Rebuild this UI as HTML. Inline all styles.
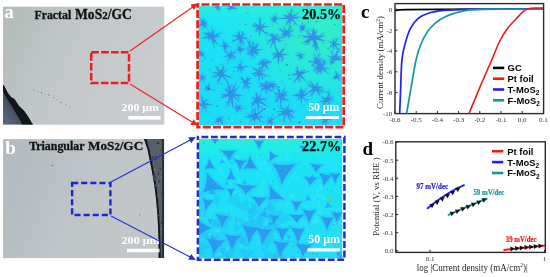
<!DOCTYPE html>
<html><head><meta charset="utf-8"><style>
html,body{margin:0;padding:0;background:#fff;width:550px;height:277px;overflow:hidden}
svg{display:block}
</style></head><body>
<svg width="550" height="277" viewBox="0 0 550 277">
<defs>
<linearGradient id="ga" x1="0" y1="0.2" x2="1" y2="0.5">
<stop offset="0" stop-color="#b3bcb9"/><stop offset="0.4" stop-color="#c2c7ca"/><stop offset="1" stop-color="#c8ccce"/></linearGradient>
<linearGradient id="gb" x1="0" y1="0.2" x2="1" y2="0.5">
<stop offset="0" stop-color="#b2bac0"/><stop offset="0.5" stop-color="#bec4c7"/><stop offset="1" stop-color="#c3c7c9"/></linearGradient>
<linearGradient id="gr" x1="0" y1="0" x2="0" y2="1">
<stop offset="0" stop-color="#26eee0"/><stop offset="0.1" stop-color="#1ee6f0"/><stop offset="0.3" stop-color="#1ce2f4"/><stop offset="1" stop-color="#1edcf4"/></linearGradient>
<radialGradient id="gr2" cx="0.85" cy="0.25" r="0.6"><stop offset="0" stop-color="#34eec4" stop-opacity="0.95"/><stop offset="0.5" stop-color="#30eecc" stop-opacity="0.6"/><stop offset="1" stop-color="#30eed0" stop-opacity="0"/></radialGradient>
<linearGradient id="gbl" x1="0" y1="0" x2="0" y2="1">
<stop offset="0" stop-color="#26f0d8"/><stop offset="0.08" stop-color="#20eae8"/><stop offset="0.2" stop-color="#1ee4f6"/><stop offset="1" stop-color="#22dcf6"/></linearGradient>
<radialGradient id="gbl2" cx="0.1" cy="0.95" r="0.5"><stop offset="0" stop-color="#22a8f2" stop-opacity="0.15"/><stop offset="1" stop-color="#22a8f2" stop-opacity="0"/></radialGradient>
<filter id="soft" x="0" y="0" width="1" height="1"><feGaussianBlur stdDeviation="0.45"/></filter>
<filter id="soft2"><feGaussianBlur stdDeviation="0.5"/></filter>
<filter id="halo"><feGaussianBlur stdDeviation="1.6"/></filter>
<clipPath id="cr"><rect x="199" y="6" width="143" height="119.5"/></clipPath>
<clipPath id="cb"><rect x="199" y="139" width="143.5" height="119.5"/></clipPath>
<marker id="ahr" viewBox="0 0 10 10" refX="9" refY="5" markerWidth="6" markerHeight="6" orient="auto"><path d="M0,0 L10,5 L0,10 z" fill="#f02020"/></marker>
<marker id="ahb" viewBox="0 0 10 10" refX="9" refY="5" markerWidth="6" markerHeight="6" orient="auto"><path d="M0,0 L10,5 L0,10 z" fill="#2030d0"/></marker>
</defs>
<rect x="3.1" y="6.7" width="161.2" height="118" fill="url(#ga)"/>
<linearGradient id="gcorner" x1="0.9" y1="0.2" x2="0.1" y2="0.95"><stop offset="0" stop-color="#262e38"/><stop offset="0.45" stop-color="#3a4454"/><stop offset="1" stop-color="#5a667c"/></linearGradient>
<path d="M3,85 L3.8,85.2 L7.8,93 L11.2,97.3 L15.6,100.8 L19,106 L24.2,111.1 L28.5,117.2 L32,123.3 L33,124.5 L3,124.5 Z" fill="url(#gcorner)"/>
<path d="M3,85 L3.8,85.2 L7.8,93 L11.2,97.3 L14,98.5 L15.6,100.8 L19,106 L24.2,111.1 L28.5,117.2 L32,123.3 L33,124.5 L22,124.5 L20,120 L17,115 L14,110 L11,105 L7.5,99.5 L4.5,94 L3,91 Z" fill="#10161a"/>
<circle cx="34" cy="90" r="0.6" fill="#5a6260" opacity="0.7"/>
<circle cx="38" cy="91.5" r="0.5" fill="#5a6260" opacity="0.7"/>
<circle cx="41.5" cy="92.7" r="0.7" fill="#5a6260" opacity="0.7"/>
<circle cx="45" cy="94" r="0.5" fill="#5a6260" opacity="0.7"/>
<circle cx="48.8" cy="95" r="0.7" fill="#5a6260" opacity="0.7"/>
<circle cx="53.7" cy="97.6" r="0.7" fill="#5a6260" opacity="0.7"/>
<circle cx="57" cy="100" r="0.5" fill="#5a6260" opacity="0.7"/>
<circle cx="61" cy="102.4" r="0.7" fill="#5a6260" opacity="0.7"/>
<circle cx="65.9" cy="105" r="0.6" fill="#5a6260" opacity="0.7"/>
<circle cx="70" cy="107" r="0.5" fill="#5a6260" opacity="0.7"/>
<text x="4.3" y="18" font-family="Liberation Serif, serif" font-weight="bold" font-size="19" fill="#fff">a</text>
<text x="34.4" y="18.7" font-family="Liberation Serif, serif" font-weight="bold" font-size="13.1" fill="#111" stroke="#111" stroke-width="0.3" textLength="36.9" lengthAdjust="spacingAndGlyphs">Fractal</text>
<text x="75.1" y="18.7" font-family="Liberation Serif, serif" font-weight="bold" font-size="13.6" fill="#111" stroke="#111" stroke-width="0.3" textLength="56.6" lengthAdjust="spacingAndGlyphs">MoS<tspan font-size="11">2</tspan>/GC</text>
<rect x="91.2" y="52.2" width="37.8" height="30.8" fill="none" stroke="#f01c1c" stroke-width="2.5" stroke-dasharray="7.6,2.3"/>
<rect x="128.3" y="116" width="32.2" height="3.6" fill="#fff"/>
<text x="121.6" y="110.8" font-family="Liberation Serif, serif" font-weight="bold" font-size="11.4" fill="#fff" textLength="37.3" lengthAdjust="spacingAndGlyphs">200 μm</text>
<rect x="3.1" y="139.1" width="161.2" height="119" fill="url(#gb)"/>
<path d="M144,139 L144.2,139.5 L147.7,149.9 L150,161.4 L152.3,173 L154.6,186.8 L156.2,200 L157.5,215 L158.1,230 L158.3,245 L158.3,258 L164,258 L164,139 Z" fill="#565f68"/>
<path d="M144,139 L144.2,139.5 L147.7,149.9 L150,161.4 L152.3,173 L154.6,186.8 L156.2,200 L157.5,215 L158.3,230 L158.8,245 L159,258 L160.8,258 L160.4,245 L160,230 L159.2,215 L158,200 L156.4,186.8 L154.1,173 L151.8,161.4 L149.5,149.9 L146.4,139 Z" fill="#0c1518"/>
<clipPath id="cband"><path d="M144,139 L144.2,139.5 L147.7,149.9 L150,161.4 L152.3,173 L154.6,186.8 L156.2,200 L157.5,215 L158.3,230 L158.8,245 L159,258 L164,258 L164,139 Z"/></clipPath>
<g clip-path="url(#cband)">
<rect x="156.5" y="227.3" width="0.6" height="1.5" fill="#5a6470" opacity="0.8"/>
<rect x="162.9" y="216.2" width="0.7" height="1.5" fill="#80868c" opacity="0.8"/>
<rect x="148.9" y="203.7" width="0.8" height="2.0" fill="#5a6470" opacity="0.8"/>
<rect x="152.2" y="160.7" width="0.8" height="2.1" fill="#1c2226" opacity="0.8"/>
<rect x="146.8" y="212.5" width="0.7" height="2.4" fill="#80868c" opacity="0.8"/>
<rect x="144.1" y="231.1" width="1.5" height="1.1" fill="#80868c" opacity="0.8"/>
<rect x="163.2" y="203.2" width="0.8" height="2.4" fill="#80868c" opacity="0.8"/>
<rect x="147.9" y="253.8" width="0.9" height="1.3" fill="#1c2226" opacity="0.8"/>
<rect x="147.3" y="156.3" width="0.9" height="2.2" fill="#6a7078" opacity="0.8"/>
<rect x="155.7" y="209.9" width="0.7" height="1.3" fill="#2a3034" opacity="0.8"/>
<rect x="150.1" y="221.9" width="1.1" height="1.9" fill="#80868c" opacity="0.8"/>
<rect x="145.1" y="255.0" width="1.5" height="1.3" fill="#6a7078" opacity="0.8"/>
<rect x="152.1" y="204.3" width="1.0" height="1.7" fill="#1c2226" opacity="0.8"/>
<rect x="144.2" y="144.6" width="1.2" height="2.4" fill="#80868c" opacity="0.8"/>
<rect x="146.4" y="168.3" width="0.9" height="1.3" fill="#1c2226" opacity="0.8"/>
<rect x="154.5" y="231.3" width="1.2" height="2.1" fill="#6a7078" opacity="0.8"/>
<rect x="151.3" y="174.2" width="1.5" height="0.8" fill="#1c2226" opacity="0.8"/>
<rect x="150.8" y="211.7" width="0.9" height="2.4" fill="#80868c" opacity="0.8"/>
<rect x="154.9" y="176.2" width="0.9" height="2.1" fill="#2a3034" opacity="0.8"/>
<rect x="156.5" y="224.8" width="1.6" height="0.9" fill="#2a3034" opacity="0.8"/>
<rect x="145.0" y="256.4" width="1.5" height="0.7" fill="#5a6470" opacity="0.8"/>
<rect x="158.8" y="179.9" width="1.1" height="1.4" fill="#2a3034" opacity="0.8"/>
<rect x="145.1" y="248.0" width="1.4" height="1.2" fill="#6a7078" opacity="0.8"/>
<rect x="148.1" y="255.8" width="1.5" height="1.8" fill="#5a6470" opacity="0.8"/>
<rect x="159.8" y="151.7" width="1.0" height="0.7" fill="#1c2226" opacity="0.8"/>
<rect x="152.4" y="155.8" width="1.5" height="2.5" fill="#5a6470" opacity="0.8"/>
<rect x="153.1" y="197.1" width="1.1" height="1.2" fill="#2a3034" opacity="0.8"/>
<rect x="152.1" y="156.4" width="1.4" height="1.6" fill="#1c2226" opacity="0.8"/>
<rect x="147.6" y="250.5" width="0.8" height="1.5" fill="#2a3034" opacity="0.8"/>
<rect x="154.3" y="204.2" width="1.0" height="2.1" fill="#5a6470" opacity="0.8"/>
<rect x="159.5" y="221.7" width="1.4" height="1.3" fill="#6a7078" opacity="0.8"/>
<rect x="158.1" y="172.4" width="0.9" height="2.5" fill="#1c2226" opacity="0.8"/>
<rect x="158.3" y="252.9" width="1.2" height="1.7" fill="#2a3034" opacity="0.8"/>
<rect x="144.2" y="204.1" width="0.9" height="1.1" fill="#2a3034" opacity="0.8"/>
<rect x="149.8" y="198.5" width="0.9" height="1.8" fill="#2a3034" opacity="0.8"/>
<rect x="158.8" y="237.6" width="1.5" height="0.9" fill="#2a3034" opacity="0.8"/>
<rect x="161.3" y="192.5" width="1.6" height="1.6" fill="#2a3034" opacity="0.8"/>
<rect x="154.6" y="158.8" width="1.5" height="1.5" fill="#2a3034" opacity="0.8"/>
<rect x="157.8" y="224.6" width="0.8" height="2.1" fill="#1c2226" opacity="0.8"/>
<rect x="155.6" y="218.2" width="0.9" height="1.7" fill="#1c2226" opacity="0.8"/>
<rect x="161.3" y="171.2" width="0.8" height="1.7" fill="#6a7078" opacity="0.8"/>
<rect x="156.5" y="160.5" width="1.2" height="0.7" fill="#80868c" opacity="0.8"/>
<rect x="153.4" y="165.9" width="1.5" height="0.8" fill="#6a7078" opacity="0.8"/>
<rect x="163.4" y="196.4" width="0.6" height="1.5" fill="#5a6470" opacity="0.8"/>
<rect x="151.6" y="211.8" width="0.8" height="2.0" fill="#5a6470" opacity="0.8"/>
<rect x="151.5" y="180.7" width="1.5" height="2.2" fill="#2a3034" opacity="0.8"/>
<rect x="157.8" y="204.1" width="1.1" height="1.2" fill="#6a7078" opacity="0.8"/>
<rect x="149.9" y="200.0" width="0.9" height="1.3" fill="#5a6470" opacity="0.8"/>
<rect x="146.6" y="187.7" width="1.2" height="1.3" fill="#5a6470" opacity="0.8"/>
<rect x="146.8" y="209.9" width="1.1" height="1.0" fill="#5a6470" opacity="0.8"/>
<rect x="146.7" y="149.8" width="1.0" height="1.2" fill="#6a7078" opacity="0.8"/>
<rect x="162.3" y="203.2" width="1.2" height="2.3" fill="#2a3034" opacity="0.8"/>
<rect x="151.5" y="190.4" width="1.1" height="1.5" fill="#80868c" opacity="0.8"/>
<rect x="158.2" y="184.7" width="1.2" height="1.1" fill="#80868c" opacity="0.8"/>
<rect x="163.6" y="198.1" width="0.6" height="2.4" fill="#1c2226" opacity="0.8"/>
<rect x="150.1" y="249.6" width="1.1" height="0.8" fill="#80868c" opacity="0.8"/>
<rect x="156.4" y="191.8" width="0.6" height="0.9" fill="#2a3034" opacity="0.8"/>
<rect x="151.8" y="196.2" width="0.9" height="2.4" fill="#5a6470" opacity="0.8"/>
<rect x="159.6" y="168.2" width="1.4" height="2.0" fill="#2a3034" opacity="0.8"/>
<rect x="149.7" y="197.6" width="1.1" height="2.2" fill="#1c2226" opacity="0.8"/>
<rect x="161.6" y="245.5" width="1.4" height="1.2" fill="#6a7078" opacity="0.8"/>
<rect x="154.7" y="179.0" width="1.3" height="0.7" fill="#2a3034" opacity="0.8"/>
<rect x="151.0" y="220.1" width="0.7" height="0.6" fill="#5a6470" opacity="0.8"/>
<rect x="155.1" y="220.6" width="1.5" height="1.6" fill="#6a7078" opacity="0.8"/>
<rect x="144.3" y="231.6" width="1.2" height="1.9" fill="#1c2226" opacity="0.8"/>
<rect x="163.1" y="216.2" width="1.1" height="1.9" fill="#1c2226" opacity="0.8"/>
<rect x="158.4" y="246.0" width="1.4" height="0.7" fill="#1c2226" opacity="0.8"/>
<rect x="160.7" y="221.7" width="1.2" height="1.8" fill="#1c2226" opacity="0.8"/>
<rect x="153.4" y="176.0" width="1.1" height="1.6" fill="#80868c" opacity="0.8"/>
<rect x="154.0" y="178.4" width="1.0" height="1.6" fill="#80868c" opacity="0.8"/>
<rect x="145.0" y="226.2" width="1.4" height="2.1" fill="#2a3034" opacity="0.8"/>
<rect x="157.3" y="142.0" width="1.6" height="2.5" fill="#1c2226" opacity="0.8"/>
<rect x="158.0" y="144.8" width="0.8" height="1.8" fill="#6a7078" opacity="0.8"/>
<rect x="163.0" y="223.8" width="1.6" height="1.9" fill="#80868c" opacity="0.8"/>
<rect x="152.8" y="160.8" width="1.0" height="0.9" fill="#80868c" opacity="0.8"/>
<rect x="156.4" y="144.2" width="1.3" height="2.0" fill="#6a7078" opacity="0.8"/>
<rect x="149.6" y="207.0" width="1.3" height="2.3" fill="#6a7078" opacity="0.8"/>
<rect x="146.7" y="190.4" width="1.3" height="1.5" fill="#2a3034" opacity="0.8"/>
<rect x="151.1" y="217.1" width="0.7" height="1.2" fill="#6a7078" opacity="0.8"/>
<rect x="155.4" y="219.7" width="1.5" height="1.7" fill="#2a3034" opacity="0.8"/>
<rect x="156.4" y="170.3" width="0.8" height="2.2" fill="#5a6470" opacity="0.8"/>
<rect x="149.7" y="255.0" width="1.5" height="1.5" fill="#80868c" opacity="0.8"/>
<rect x="151.8" y="154.6" width="1.3" height="0.8" fill="#6a7078" opacity="0.8"/>
<rect x="157.4" y="149.9" width="1.1" height="1.5" fill="#6a7078" opacity="0.8"/>
<rect x="151.8" y="194.1" width="0.7" height="1.6" fill="#2a3034" opacity="0.8"/>
<rect x="154.8" y="184.8" width="1.5" height="1.4" fill="#80868c" opacity="0.8"/>
<rect x="159.9" y="228.2" width="1.6" height="1.9" fill="#6a7078" opacity="0.8"/>
<rect x="160.4" y="155.6" width="1.0" height="2.2" fill="#5a6470" opacity="0.8"/>
<rect x="149.8" y="249.7" width="1.4" height="1.3" fill="#2a3034" opacity="0.8"/>
<rect x="158.5" y="181.6" width="1.4" height="1.4" fill="#2a3034" opacity="0.8"/>
<rect x="161.0" y="200.6" width="1.6" height="1.0" fill="#5a6470" opacity="0.8"/>
<rect x="147.6" y="146.5" width="0.6" height="1.0" fill="#6a7078" opacity="0.8"/>
<rect x="144.8" y="244.8" width="1.3" height="1.3" fill="#1c2226" opacity="0.8"/>
<rect x="152.5" y="174.8" width="1.5" height="1.2" fill="#5a6470" opacity="0.8"/>
<rect x="153.2" y="161.8" width="0.7" height="2.3" fill="#80868c" opacity="0.8"/>
<rect x="161.4" y="194.9" width="0.9" height="1.1" fill="#5a6470" opacity="0.8"/>
<rect x="147.2" y="173.2" width="0.6" height="2.3" fill="#80868c" opacity="0.8"/>
<rect x="150.9" y="228.5" width="1.5" height="1.9" fill="#2a3034" opacity="0.8"/>
<rect x="157.5" y="195.1" width="0.7" height="1.9" fill="#80868c" opacity="0.8"/>
<rect x="149.8" y="219.3" width="0.6" height="2.0" fill="#80868c" opacity="0.8"/>
<rect x="155.5" y="217.1" width="1.0" height="2.4" fill="#5a6470" opacity="0.8"/>
<rect x="151.3" y="176.1" width="1.0" height="0.7" fill="#1c2226" opacity="0.8"/>
<rect x="163.9" y="194.7" width="0.8" height="1.0" fill="#80868c" opacity="0.8"/>
<rect x="144.9" y="211.4" width="0.6" height="0.7" fill="#2a3034" opacity="0.8"/>
<rect x="159.6" y="187.8" width="0.6" height="2.2" fill="#6a7078" opacity="0.8"/>
<rect x="160.7" y="206.3" width="1.3" height="1.1" fill="#6a7078" opacity="0.8"/>
<rect x="160.1" y="149.9" width="0.7" height="1.1" fill="#1c2226" opacity="0.8"/>
<rect x="145.0" y="186.3" width="0.6" height="2.2" fill="#6a7078" opacity="0.8"/>
<rect x="152.9" y="215.2" width="1.6" height="1.0" fill="#6a7078" opacity="0.8"/>
<rect x="157.9" y="215.2" width="1.1" height="0.8" fill="#80868c" opacity="0.8"/>
<rect x="150.3" y="151.8" width="1.6" height="0.9" fill="#5a6470" opacity="0.8"/>
<rect x="145.5" y="225.9" width="0.6" height="1.6" fill="#5a6470" opacity="0.8"/>
<rect x="153.7" y="207.0" width="1.1" height="0.9" fill="#1c2226" opacity="0.8"/>
<rect x="144.2" y="229.0" width="1.5" height="2.5" fill="#1c2226" opacity="0.8"/>
<rect x="155.1" y="155.5" width="0.7" height="2.1" fill="#1c2226" opacity="0.8"/>
<rect x="160.4" y="176.2" width="1.1" height="1.5" fill="#80868c" opacity="0.8"/>
<rect x="157.9" y="234.1" width="1.3" height="1.1" fill="#5a6470" opacity="0.8"/>
<rect x="153.9" y="168.6" width="1.4" height="2.3" fill="#80868c" opacity="0.8"/>
<rect x="161.7" y="147.6" width="1.0" height="2.1" fill="#2a3034" opacity="0.8"/>
<rect x="144.0" y="173.0" width="1.2" height="1.4" fill="#80868c" opacity="0.8"/>
</g>
<rect x="162" y="139" width="2" height="119" fill="#2a3034"/>
<circle cx="52.4" cy="165.6" r="0.7" fill="#555c60"/><circle cx="139.6" cy="215" r="0.6" fill="#60666a"/>
<text x="5.3" y="154.4" font-family="Liberation Serif, serif" font-weight="bold" font-size="19" fill="#fff">b</text>
<text x="29.2" y="149.6" font-family="Liberation Serif, serif" font-weight="bold" font-size="12.2" fill="#111" stroke="#111" stroke-width="0.3" textLength="55.3" lengthAdjust="spacingAndGlyphs">Triangular</text>
<text x="88" y="149.6" font-family="Liberation Serif, serif" font-weight="bold" font-size="13.1" fill="#111" stroke="#111" stroke-width="0.3" textLength="55.2" lengthAdjust="spacingAndGlyphs">MoS<tspan font-size="10.5">2</tspan>/GC</text>
<rect x="72.1" y="183" width="38.3" height="32" fill="none" stroke="#1a28c8" stroke-width="2.4" stroke-dasharray="6.1,3"/>
<rect x="127" y="248.8" width="32.5" height="3.5" fill="#fff"/>
<text x="121.6" y="244.1" font-family="Liberation Serif, serif" font-weight="bold" font-size="11.4" fill="#fff" textLength="38" lengthAdjust="spacingAndGlyphs">200 μm</text>
<line x1="130" y1="51" x2="197" y2="4" stroke="#f02020" stroke-width="1.1" marker-end="url(#ahr)"/>
<line x1="130" y1="84" x2="197" y2="125" stroke="#f02020" stroke-width="1.1" marker-end="url(#ahr)"/>
<line x1="111" y1="182" x2="195" y2="137.5" stroke="#2030d0" stroke-width="1.1" marker-end="url(#ahb)"/>
<line x1="111" y1="216" x2="195" y2="259.5" stroke="#2030d0" stroke-width="1.1" marker-end="url(#ahb)"/>
<g clip-path="url(#cr)">
<rect x="199" y="6" width="143" height="119.5" fill="url(#gr)"/>
<rect x="199" y="6" width="143" height="119.5" fill="url(#gr2)"/>
<g filter="url(#halo)" opacity="0.55"><path d="M217.4,6.7L213.5,7.7L217.4,8.3ZM218.0,7.0L214.1,3.1L216.8,8.0ZM218.2,7.4L216.4,0.4L216.6,7.6ZM218.0,8.0L220.2,4.3L216.8,7.0ZM217.2,8.3L221.4,8.6L217.6,6.7ZM216.7,8.0L221.0,12.8L218.1,7.0ZM216.7,7.2L215.8,11.3L218.1,7.8Z" fill="#40aaf0"/>
<circle cx="217.4" cy="7.5" r="1.0" fill="#40aaf0"/>
<path d="M231.8,7.7L235.3,5.3L231.2,6.3ZM231.3,7.8L238.3,9.2L231.7,6.2ZM230.9,7.6L234.4,10.0L232.1,6.4ZM230.7,6.9L231.2,10.5L232.3,7.1ZM230.8,6.5L228.1,11.8L232.2,7.5ZM231.2,6.3L225.8,9.6L231.8,7.7ZM231.6,6.2L227.3,6.7L231.4,7.8ZM231.9,6.3L227.4,4.8L231.1,7.7ZM232.3,6.7L229.2,0.8L230.7,7.3ZM232.2,7.3L234.2,0.3L230.8,6.7ZM232.1,7.5L233.9,3.7L230.9,6.5Z" fill="#40aaf0"/>
<circle cx="231.5" cy="7.0" r="1.0" fill="#40aaf0"/>
<path d="M204.0,23.8L205.4,19.0L202.6,23.0ZM203.6,24.3L208.8,21.7L203.0,22.5ZM203.1,24.2L208.6,24.5L203.5,22.6ZM202.7,23.9L208.6,29.6L203.9,22.9ZM202.6,23.7L205.7,28.5L204.0,23.1ZM202.5,23.4L202.9,30.8L204.1,23.4ZM202.8,22.6L197.3,27.1L203.8,24.2ZM203.0,22.5L198.7,24.8L203.6,24.3ZM203.5,22.6L199.1,22.4L203.1,24.2ZM204.1,22.9L198.9,16.6L202.5,23.9ZM204.2,23.4L203.2,16.6L202.4,23.4Z" fill="#40aaf0"/>
<circle cx="203.3" cy="23.4" r="1.1" fill="#40aaf0"/>
<line x1="212.8" y1="40.4" x2="215.4" y2="42.2" stroke="#40aaf0" stroke-width="0.8"/>
<line x1="207.2" y1="34.3" x2="204.5" y2="34.9" stroke="#40aaf0" stroke-width="0.8"/>
<line x1="209.8" y1="33.5" x2="205.9" y2="33.2" stroke="#40aaf0" stroke-width="0.8"/>
<line x1="213.4" y1="32.8" x2="211.8" y2="30.2" stroke="#40aaf0" stroke-width="0.8"/>
<line x1="216.5" y1="36.5" x2="218.5" y2="34.1" stroke="#40aaf0" stroke-width="0.8"/>
<path d="M210.8,37.2L218.1,45.5L213.2,35.6ZM210.6,36.7L214.2,47.6L213.4,36.1ZM211.2,35.5L207.0,41.3L212.8,37.3ZM211.8,35.1L199.9,38.6L212.2,37.7ZM212.5,35.3L202.0,32.0L211.5,37.5ZM213.1,35.6L207.0,29.8L210.9,37.2ZM213.0,36.4L212.2,26.3L211.0,36.4ZM212.9,36.8L215.2,28.0L211.1,36.0ZM212.4,37.4L223.8,32.1L211.6,35.4ZM212.0,37.7L221.4,36.5L212.0,35.1Z" fill="#40aaf0"/>
<circle cx="212.0" cy="36.4" r="1.7" fill="#40aaf0"/>
<line x1="244.3" y1="38.3" x2="246.6" y2="37.3" stroke="#40aaf0" stroke-width="0.8"/>
<line x1="240.6" y1="40.9" x2="239.2" y2="43.4" stroke="#40aaf0" stroke-width="0.8"/>
<line x1="234.9" y1="40.5" x2="232.5" y2="40.2" stroke="#40aaf0" stroke-width="0.8"/>
<line x1="238.8" y1="35.6" x2="235.5" y2="35.0" stroke="#40aaf0" stroke-width="0.8"/>
<line x1="239.6" y1="34.4" x2="237.5" y2="32.2" stroke="#40aaf0" stroke-width="0.8"/>
<line x1="242.9" y1="34.6" x2="242.2" y2="31.3" stroke="#40aaf0" stroke-width="0.8"/>
<path d="M240.0,38.4L249.8,39.3L240.4,36.6ZM239.2,38.0L245.5,47.1L241.2,37.0ZM239.1,37.6L241.4,46.9L241.3,37.4ZM239.3,37.2L238.7,42.7L241.1,37.8ZM239.7,36.6L230.5,43.0L240.7,38.4ZM240.5,36.4L230.4,34.7L239.9,38.6ZM241.2,36.8L237.0,33.1L239.2,38.2ZM241.3,37.3L238.7,29.8L239.1,37.7ZM241.1,38.3L244.9,32.5L239.3,36.7ZM240.8,38.3L245.8,33.4L239.6,36.7Z" fill="#40aaf0"/>
<circle cx="240.2" cy="37.5" r="1.5" fill="#40aaf0"/>
<line x1="259.7" y1="21.1" x2="261.5" y2="18.3" stroke="#40aaf0" stroke-width="0.8"/>
<line x1="265.2" y1="32.9" x2="268.2" y2="32.4" stroke="#40aaf0" stroke-width="0.8"/>
<line x1="257.2" y1="29.1" x2="256.1" y2="32.3" stroke="#40aaf0" stroke-width="0.8"/>
<line x1="254.6" y1="26.5" x2="252.5" y2="24.2" stroke="#40aaf0" stroke-width="0.8"/>
<line x1="257.1" y1="25.2" x2="253.3" y2="25.3" stroke="#40aaf0" stroke-width="0.8"/>
<path d="M261.1,27.7L259.8,16.0L258.3,27.7ZM260.5,28.7L265.8,22.6L258.9,26.7ZM259.9,29.1L270.4,26.2L259.5,26.3ZM258.9,28.5L269.2,36.7L260.5,26.9ZM258.3,27.6L259.3,36.7L261.1,27.8ZM259.1,26.6L254.2,30.8L260.3,28.8ZM259.9,26.8L250.7,25.5L259.5,28.6ZM260.7,26.7L253.5,21.9L258.7,28.7Z" fill="#40aaf0"/>
<circle cx="259.7" cy="27.7" r="1.7" fill="#40aaf0"/>
<path d="M224.3,45.7L222.9,50.6L225.7,46.3ZM224.9,45.2L220.2,46.8L225.1,46.8ZM225.1,45.2L217.3,45.4L224.9,46.8ZM225.7,45.6L221.9,40.8L224.3,46.4ZM225.8,45.8L223.1,38.4L224.2,46.2ZM225.7,46.5L228.1,41.2L224.3,45.5ZM225.3,46.8L229.0,44.4L224.7,45.2ZM224.9,46.8L232.9,47.4L225.1,45.2ZM224.3,46.4L227.4,49.9L225.7,45.6ZM224.1,46.0L224.9,54.0L225.9,46.0Z" fill="#40aaf0"/>
<circle cx="225.0" cy="46.0" r="1.1" fill="#40aaf0"/>
<line x1="249.6" y1="50.1" x2="246.2" y2="52.7" stroke="#40aaf0" stroke-width="0.8"/>
<line x1="249.1" y1="43.7" x2="249.9" y2="39.3" stroke="#40aaf0" stroke-width="0.8"/>
<line x1="253.5" y1="44.6" x2="250.3" y2="41.9" stroke="#40aaf0" stroke-width="0.8"/>
<line x1="255.8" y1="47.4" x2="256.2" y2="43.4" stroke="#40aaf0" stroke-width="0.8"/>
<line x1="252.8" y1="54.8" x2="255.5" y2="58.3" stroke="#40aaf0" stroke-width="0.8"/>
<line x1="251.8" y1="53.4" x2="248.5" y2="55.0" stroke="#40aaf0" stroke-width="0.8"/>
<path d="M253.3,49.4L245.1,49.7L253.1,51.6ZM254.0,49.8L247.5,43.8L252.4,51.2ZM254.3,49.8L245.9,38.2L252.1,51.2ZM254.6,50.6L253.7,39.8L251.8,50.4ZM254.3,51.4L260.0,42.3L252.1,49.6ZM253.3,51.7L264.5,49.3L253.1,49.3ZM252.5,51.8L259.6,53.9L253.9,49.2ZM252.4,51.2L258.7,56.4L254.0,49.8ZM252.1,50.4L252.4,59.9L254.3,50.6ZM252.2,50.0L250.0,57.3L254.2,51.0ZM252.4,49.3L245.6,55.3L254.0,51.7Z" fill="#40aaf0"/>
<circle cx="253.2" cy="50.5" r="1.9" fill="#40aaf0"/>
<line x1="227.0" y1="52.7" x2="225.6" y2="49.9" stroke="#40aaf0" stroke-width="0.8"/>
<line x1="233.1" y1="52.8" x2="235.9" y2="52.8" stroke="#40aaf0" stroke-width="0.8"/>
<line x1="233.7" y1="56.4" x2="234.8" y2="59.2" stroke="#40aaf0" stroke-width="0.8"/>
<line x1="231.1" y1="57.9" x2="233.4" y2="59.7" stroke="#40aaf0" stroke-width="0.8"/>
<path d="M229.5,54.4L226.8,65.0L231.5,55.2ZM230.2,53.7L222.8,56.9L230.8,55.9ZM230.9,54.1L224.5,51.2L230.1,55.5ZM231.7,54.9L231.1,48.8L229.3,54.7ZM231.0,55.5L236.5,50.2L230.0,54.1ZM230.0,55.9L236.8,58.0L231.0,53.7ZM229.5,55.0L231.6,60.3L231.5,54.6Z" fill="#40aaf0"/>
<circle cx="230.5" cy="54.8" r="1.5" fill="#40aaf0"/>
<path d="M240.3,50.2L246.5,48.5L240.1,48.6ZM240.0,50.2L245.5,50.8L240.4,48.6ZM239.6,49.9L242.6,52.0L240.8,48.9ZM239.4,49.4L240.2,55.7L241.0,49.4ZM239.4,49.2L239.4,53.6L241.0,49.6ZM239.7,48.8L237.2,52.1L240.7,50.0ZM240.1,48.6L234.6,50.3L240.3,50.2ZM240.6,48.7L236.2,46.9L239.8,50.1ZM240.9,49.0L236.3,43.3L239.5,49.8ZM241.0,49.3L239.6,44.5L239.4,49.5ZM240.8,50.0L242.8,46.7L239.6,48.8Z" fill="#40aaf0"/>
<circle cx="240.2" cy="49.4" r="1.0" fill="#40aaf0"/>
<line x1="260.1" y1="64.0" x2="258.3" y2="62.5" stroke="#40aaf0" stroke-width="0.8"/>
<line x1="261.6" y1="62.0" x2="259.0" y2="62.0" stroke="#40aaf0" stroke-width="0.8"/>
<line x1="262.2" y1="61.7" x2="261.6" y2="59.1" stroke="#40aaf0" stroke-width="0.8"/>
<line x1="263.5" y1="61.6" x2="264.8" y2="59.0" stroke="#40aaf0" stroke-width="0.8"/>
<line x1="266.2" y1="61.1" x2="269.2" y2="61.3" stroke="#40aaf0" stroke-width="0.8"/>
<line x1="268.6" y1="61.9" x2="271.1" y2="63.1" stroke="#40aaf0" stroke-width="0.8"/>
<line x1="266.9" y1="63.1" x2="268.6" y2="64.3" stroke="#40aaf0" stroke-width="0.8"/>
<line x1="266.1" y1="67.0" x2="268.8" y2="68.1" stroke="#40aaf0" stroke-width="0.8"/>
<line x1="262.9" y1="66.9" x2="261.4" y2="68.1" stroke="#40aaf0" stroke-width="0.8"/>
<line x1="261.2" y1="67.4" x2="262.0" y2="70.2" stroke="#40aaf0" stroke-width="0.8"/>
<path d="M263.9,62.4L255.1,64.6L264.1,64.6ZM264.4,62.8L259.4,60.7L263.6,64.2ZM264.6,62.9L260.3,59.7L263.4,64.1ZM264.9,63.3L262.8,58.3L263.1,63.7ZM264.8,64.2L268.4,58.7L263.2,62.8ZM264.3,64.5L273.1,60.5L263.7,62.5ZM264.1,64.4L269.0,62.7L263.9,62.6ZM263.5,64.3L268.4,66.7L264.5,62.7ZM263.2,64.0L267.9,70.1L264.8,63.0ZM263.2,63.2L261.6,71.2L264.8,63.8ZM263.4,63.0L258.8,70.7L264.6,64.0Z" fill="#40aaf0"/>
<circle cx="264.0" cy="63.5" r="1.3" fill="#40aaf0"/>
<path d="M200.8,54.5L205.6,55.1L201.2,52.9ZM200.5,54.3L205.1,57.2L201.5,53.1ZM200.2,53.9L201.7,57.3L201.8,53.5ZM200.4,53.2L198.4,56.8L201.6,54.2ZM200.9,52.9L197.5,54.2L201.1,54.5ZM201.5,53.0L196.5,50.6L200.5,54.4ZM201.7,53.4L199.2,49.1L200.3,54.0ZM201.8,53.8L201.2,50.1L200.2,53.6ZM201.4,54.4L204.3,52.0L200.6,53.0Z" fill="#40aaf0"/>
<circle cx="201.0" cy="53.7" r="1.0" fill="#40aaf0"/>
<line x1="291.0" y1="12.3" x2="293.5" y2="9.7" stroke="#40aaf0" stroke-width="0.8"/>
<line x1="295.0" y1="17.6" x2="297.6" y2="19.5" stroke="#40aaf0" stroke-width="0.8"/>
<line x1="294.5" y1="22.2" x2="294.4" y2="25.0" stroke="#40aaf0" stroke-width="0.8"/>
<line x1="290.0" y1="21.6" x2="286.9" y2="23.3" stroke="#40aaf0" stroke-width="0.8"/>
<path d="M289.9,17.3L284.4,26.0L291.3,18.5ZM290.5,16.5L277.8,18.8L290.7,19.3ZM291.1,16.8L281.6,14.2L290.1,19.0ZM291.4,17.5L286.5,10.0L289.8,18.3ZM292.0,18.0L291.4,7.4L289.2,17.8ZM291.3,19.0L299.3,12.2L289.9,16.8ZM290.7,19.2L302.5,17.1L290.5,16.6ZM289.7,18.7L298.0,26.1L291.5,17.1ZM289.2,17.7L289.2,26.8L292.0,18.1Z" fill="#40aaf0"/>
<circle cx="290.6" cy="17.9" r="1.7" fill="#40aaf0"/>
<path d="M274.5,18.2L268.9,17.4L274.1,19.8ZM275.1,18.8L273.3,14.4L273.5,19.2ZM275.1,19.3L277.0,12.0L273.5,18.7ZM274.7,19.8L279.6,16.2L273.9,18.2ZM274.3,19.8L281.1,18.8L274.3,18.2ZM273.5,19.5L277.7,24.5L275.1,18.5ZM273.5,18.9L273.3,24.3L275.1,19.1ZM273.7,18.5L271.8,22.4L274.9,19.5ZM274.0,18.2L269.1,20.6L274.6,19.8Z" fill="#40aaf0"/>
<circle cx="274.3" cy="19.0" r="1.1" fill="#40aaf0"/>
<line x1="283.0" y1="33.7" x2="280.9" y2="35.4" stroke="#40aaf0" stroke-width="0.8"/>
<line x1="282.5" y1="31.1" x2="281.1" y2="28.3" stroke="#40aaf0" stroke-width="0.8"/>
<line x1="289.9" y1="28.0" x2="289.6" y2="25.6" stroke="#40aaf0" stroke-width="0.8"/>
<line x1="290.6" y1="31.7" x2="291.8" y2="28.8" stroke="#40aaf0" stroke-width="0.8"/>
<line x1="288.4" y1="36.1" x2="290.7" y2="36.3" stroke="#40aaf0" stroke-width="0.8"/>
<line x1="285.5" y1="35.6" x2="286.8" y2="37.6" stroke="#40aaf0" stroke-width="0.8"/>
<line x1="282.9" y1="36.2" x2="282.7" y2="38.9" stroke="#40aaf0" stroke-width="0.8"/>
<path d="M286.2,32.3L280.2,34.2L286.4,33.9ZM286.8,32.1L276.5,27.9L285.8,34.1ZM287.4,32.6L283.2,25.4L285.2,33.6ZM287.3,33.8L292.5,24.5L285.3,32.4ZM286.7,34.3L294.4,30.5L285.9,31.9ZM286.0,34.0L295.1,36.5L286.6,32.2ZM285.4,33.7L290.2,38.7L287.2,32.5ZM285.2,32.8L284.4,38.9L287.4,33.4ZM285.7,32.4L278.0,40.5L286.9,33.8Z" fill="#40aaf0"/>
<circle cx="286.3" cy="33.1" r="1.5" fill="#40aaf0"/>
<line x1="277.6" y1="37.8" x2="279.3" y2="35.4" stroke="#40aaf0" stroke-width="0.8"/>
<line x1="279.1" y1="40.0" x2="280.0" y2="42.5" stroke="#40aaf0" stroke-width="0.8"/>
<line x1="271.0" y1="39.7" x2="269.5" y2="42.8" stroke="#40aaf0" stroke-width="0.8"/>
<line x1="271.5" y1="36.1" x2="271.2" y2="33.6" stroke="#40aaf0" stroke-width="0.8"/>
<line x1="273.3" y1="36.2" x2="273.7" y2="33.9" stroke="#40aaf0" stroke-width="0.8"/>
<path d="M275.3,39.2L278.3,32.5L273.3,37.8ZM274.5,39.5L281.0,37.1L274.1,37.5ZM273.9,39.7L283.7,41.3L274.7,37.3ZM273.4,38.6L275.6,50.0L275.2,38.4ZM273.2,38.0L270.0,49.1L275.4,39.0ZM273.9,37.4L265.2,41.7L274.7,39.6ZM274.9,37.8L267.2,32.3L273.7,39.2ZM275.4,38.0L271.6,32.3L273.2,39.0Z" fill="#40aaf0"/>
<circle cx="274.3" cy="38.5" r="1.5" fill="#40aaf0"/>
<line x1="315.1" y1="33.8" x2="314.3" y2="30.4" stroke="#40aaf0" stroke-width="0.8"/>
<line x1="320.7" y1="36.3" x2="322.9" y2="32.8" stroke="#40aaf0" stroke-width="0.8"/>
<line x1="321.3" y1="40.0" x2="324.2" y2="44.1" stroke="#40aaf0" stroke-width="0.8"/>
<line x1="317.4" y1="46.2" x2="315.7" y2="49.9" stroke="#40aaf0" stroke-width="0.8"/>
<line x1="314.7" y1="43.5" x2="312.0" y2="47.4" stroke="#40aaf0" stroke-width="0.8"/>
<line x1="308.8" y1="41.4" x2="308.7" y2="44.9" stroke="#40aaf0" stroke-width="0.8"/>
<line x1="305.7" y1="36.5" x2="303.1" y2="38.7" stroke="#40aaf0" stroke-width="0.8"/>
<line x1="308.0" y1="32.8" x2="308.2" y2="28.6" stroke="#40aaf0" stroke-width="0.8"/>
<line x1="313.5" y1="31.8" x2="310.2" y2="29.1" stroke="#40aaf0" stroke-width="0.8"/>
<path d="M314.7,38.1L317.6,28.6L312.1,36.9ZM313.7,39.3L326.4,35.4L313.1,35.7ZM312.9,39.1L326.7,41.6L313.9,35.9ZM312.1,38.1L320.2,52.2L314.7,36.9ZM311.8,37.8L316.9,53.6L315.0,37.2ZM312.5,36.4L303.4,46.1L314.3,38.6ZM312.6,36.0L300.9,43.9L314.2,39.0ZM313.6,36.0L298.6,35.6L313.2,39.0ZM314.3,36.4L304.0,29.4L312.5,38.6ZM315.3,37.5L313.6,26.7L311.5,37.5Z" fill="#40aaf0"/>
<circle cx="313.4" cy="37.5" r="2.3" fill="#40aaf0"/>
<line x1="336.3" y1="40.9" x2="335.8" y2="37.8" stroke="#40aaf0" stroke-width="0.8"/>
<line x1="337.4" y1="44.5" x2="339.7" y2="43.5" stroke="#40aaf0" stroke-width="0.8"/>
<line x1="336.9" y1="48.1" x2="340.1" y2="49.4" stroke="#40aaf0" stroke-width="0.8"/>
<line x1="333.2" y1="47.6" x2="334.9" y2="49.4" stroke="#40aaf0" stroke-width="0.8"/>
<line x1="331.5" y1="45.7" x2="330.4" y2="47.8" stroke="#40aaf0" stroke-width="0.8"/>
<path d="M334.8,44.6L338.6,37.8L333.2,43.4ZM333.8,45.2L341.1,45.2L334.2,42.8ZM333.3,44.5L339.7,52.0L334.7,43.5ZM332.9,43.8L332.7,50.2L335.1,44.2ZM333.5,43.2L328.7,47.5L334.5,44.8ZM334.4,43.2L326.9,40.0L333.6,44.8ZM335.2,43.8L333.0,37.2L332.8,44.2Z" fill="#40aaf0"/>
<circle cx="334.0" cy="44.0" r="1.5" fill="#40aaf0"/>
<line x1="281.6" y1="56.8" x2="282.8" y2="59.8" stroke="#40aaf0" stroke-width="0.8"/>
<line x1="276.0" y1="56.4" x2="273.1" y2="55.6" stroke="#40aaf0" stroke-width="0.8"/>
<line x1="281.6" y1="51.0" x2="284.8" y2="49.7" stroke="#40aaf0" stroke-width="0.8"/>
<path d="M277.9,56.0L284.9,59.1L279.5,53.6ZM277.3,54.7L278.2,64.9L280.1,54.9ZM277.9,53.4L271.7,58.9L279.5,56.2ZM279.0,53.6L270.5,52.8L278.4,56.0ZM279.7,54.3L273.7,43.6L277.7,55.3ZM279.5,55.4L285.2,46.3L277.9,54.2ZM278.8,56.2L289.3,54.2L278.6,53.4Z" fill="#40aaf0"/>
<circle cx="278.7" cy="54.8" r="1.9" fill="#40aaf0"/>
<path d="M299.7,55.6L298.2,61.0L301.1,56.2ZM300.5,55.1L294.6,54.9L300.3,56.7ZM300.9,55.3L295.8,51.6L299.9,56.5ZM301.2,56.0L300.9,51.8L299.6,55.8ZM300.7,56.6L307.2,53.2L300.1,55.2ZM299.9,56.5L304.5,59.0L300.9,55.3ZM299.6,56.1L301.7,60.3L301.2,55.7Z" fill="#40aaf0"/>
<circle cx="300.4" cy="55.9" r="1.1" fill="#40aaf0"/>
<line x1="318.6" y1="55.5" x2="321.2" y2="53.9" stroke="#40aaf0" stroke-width="0.8"/>
<line x1="319.6" y1="59.8" x2="322.7" y2="60.1" stroke="#40aaf0" stroke-width="0.8"/>
<line x1="313.3" y1="61.2" x2="311.3" y2="63.2" stroke="#40aaf0" stroke-width="0.8"/>
<path d="M317.5,61.6L319.9,51.6L315.7,61.0ZM317.0,62.1L324.3,57.5L316.2,60.5ZM316.5,62.2L323.4,62.3L316.7,60.4ZM316.1,62.0L323.2,65.9L317.1,60.6ZM315.5,61.7L319.3,68.8L317.7,60.9ZM315.8,61.1L315.3,66.8L317.4,61.5ZM315.8,60.4L310.2,66.7L317.4,62.2ZM316.6,60.5L307.2,61.1L316.6,62.1ZM317.5,60.5L312.2,56.6L315.7,62.1ZM317.6,61.0L313.5,51.7L315.6,61.6Z" fill="#40aaf0"/>
<circle cx="316.6" cy="61.3" r="1.5" fill="#40aaf0"/>
<line x1="332.0" y1="53.2" x2="332.7" y2="50.7" stroke="#40aaf0" stroke-width="0.8"/>
<line x1="336.6" y1="52.4" x2="339.5" y2="51.1" stroke="#40aaf0" stroke-width="0.8"/>
<line x1="339.5" y1="59.2" x2="342.5" y2="58.0" stroke="#40aaf0" stroke-width="0.8"/>
<line x1="337.1" y1="59.3" x2="339.8" y2="58.5" stroke="#40aaf0" stroke-width="0.8"/>
<line x1="332.8" y1="61.6" x2="329.8" y2="62.3" stroke="#40aaf0" stroke-width="0.8"/>
<line x1="331.1" y1="60.7" x2="330.8" y2="63.9" stroke="#40aaf0" stroke-width="0.8"/>
<path d="M334.8,57.1L327.8,59.9L335.2,58.9ZM335.3,57.0L325.7,55.2L334.7,59.0ZM335.7,57.5L329.6,49.5L334.3,58.5ZM336.0,58.3L338.0,47.5L334.0,57.7ZM335.8,58.5L338.4,53.0L334.2,57.5ZM335.3,58.9L342.5,55.7L334.7,57.1ZM334.8,58.9L344.1,60.5L335.2,57.1ZM334.3,59.0L340.4,61.5L335.7,57.0ZM334.2,58.2L336.3,63.3L335.8,57.8ZM334.0,57.4L329.9,66.4L336.0,58.6ZM334.5,57.3L328.0,62.9L335.5,58.7Z" fill="#40aaf0"/>
<circle cx="335.0" cy="58.0" r="1.5" fill="#40aaf0"/>
<line x1="217.5" y1="69.1" x2="218.0" y2="66.1" stroke="#40aaf0" stroke-width="0.8"/>
<line x1="222.5" y1="69.9" x2="225.1" y2="68.0" stroke="#40aaf0" stroke-width="0.8"/>
<line x1="228.1" y1="76.7" x2="231.2" y2="75.9" stroke="#40aaf0" stroke-width="0.8"/>
<line x1="219.5" y1="79.1" x2="216.4" y2="80.9" stroke="#40aaf0" stroke-width="0.8"/>
<line x1="215.6" y1="76.2" x2="213.0" y2="75.1" stroke="#40aaf0" stroke-width="0.8"/>
<path d="M222.6,73.0L214.9,65.8L220.2,75.0ZM222.8,74.4L224.3,62.9L220.0,73.6ZM222.1,74.8L228.8,68.1L220.7,73.2ZM221.0,75.0L234.5,79.3L221.8,73.0ZM220.4,74.8L228.6,83.5L222.4,73.2ZM220.2,73.6L216.7,86.4L222.6,74.4ZM221.0,73.0L210.2,78.3L221.8,75.0ZM221.7,72.5L211.4,72.3L221.1,75.5Z" fill="#40aaf0"/>
<circle cx="221.4" cy="74.0" r="1.9" fill="#40aaf0"/>
<line x1="238.4" y1="69.6" x2="238.3" y2="71.6" stroke="#40aaf0" stroke-width="0.8"/>
<line x1="244.6" y1="66.9" x2="246.7" y2="65.0" stroke="#40aaf0" stroke-width="0.8"/>
<path d="M239.6,67.5L241.9,75.7L241.2,67.3ZM239.7,66.7L236.6,71.4L241.1,68.1ZM240.4,66.4L232.3,67.1L240.4,68.4ZM241.2,66.9L237.6,62.7L239.6,67.9ZM241.2,67.5L242.1,58.3L239.6,67.3ZM240.5,68.4L249.7,66.2L240.3,66.4ZM239.8,68.2L245.3,71.2L241.0,66.6Z" fill="#40aaf0"/>
<circle cx="240.4" cy="67.4" r="1.3" fill="#40aaf0"/>
<line x1="247.3" y1="86.0" x2="250.1" y2="87.4" stroke="#40aaf0" stroke-width="0.8"/>
<line x1="244.7" y1="85.3" x2="246.3" y2="88.0" stroke="#40aaf0" stroke-width="0.8"/>
<line x1="242.0" y1="78.9" x2="241.6" y2="76.4" stroke="#40aaf0" stroke-width="0.8"/>
<line x1="246.8" y1="79.7" x2="250.0" y2="78.4" stroke="#40aaf0" stroke-width="0.8"/>
<path d="M245.6,82.8L252.5,84.9L246.4,81.0ZM245.0,82.2L249.0,91.4L247.0,81.6ZM244.9,81.5L242.5,91.0L247.1,82.3ZM245.9,80.9L239.7,82.6L246.1,82.9ZM246.8,80.9L238.5,76.2L245.2,82.9ZM247.1,82.3L248.2,75.9L244.9,81.5ZM246.7,82.7L252.1,77.0L245.3,81.1Z" fill="#40aaf0"/>
<circle cx="246.0" cy="81.9" r="1.7" fill="#40aaf0"/>
<line x1="255.4" y1="69.1" x2="252.4" y2="68.8" stroke="#40aaf0" stroke-width="0.8"/>
<line x1="259.6" y1="69.6" x2="257.9" y2="67.7" stroke="#40aaf0" stroke-width="0.8"/>
<line x1="261.9" y1="70.8" x2="265.1" y2="70.6" stroke="#40aaf0" stroke-width="0.8"/>
<line x1="264.4" y1="74.7" x2="265.7" y2="77.3" stroke="#40aaf0" stroke-width="0.8"/>
<line x1="262.1" y1="76.6" x2="262.5" y2="79.8" stroke="#40aaf0" stroke-width="0.8"/>
<line x1="256.2" y1="75.6" x2="252.8" y2="74.8" stroke="#40aaf0" stroke-width="0.8"/>
<path d="M260.2,72.1L252.0,65.8L258.6,73.9ZM260.4,73.1L260.0,64.7L258.4,72.9ZM260.0,73.7L263.8,69.2L258.8,72.3ZM259.0,74.1L268.5,76.2L259.8,71.9ZM258.6,73.6L264.6,79.8L260.2,72.4ZM258.4,72.9L258.6,84.4L260.4,73.1ZM258.8,72.2L253.9,77.5L260.0,73.8ZM259.3,71.8L250.3,73.7L259.5,74.2Z" fill="#40aaf0"/>
<circle cx="259.4" cy="73.0" r="1.5" fill="#40aaf0"/>
<line x1="237.5" y1="95.0" x2="239.8" y2="99.0" stroke="#40aaf0" stroke-width="0.8"/>
<line x1="232.2" y1="101.3" x2="229.6" y2="105.2" stroke="#40aaf0" stroke-width="0.8"/>
<line x1="228.8" y1="101.6" x2="225.6" y2="102.6" stroke="#40aaf0" stroke-width="0.8"/>
<line x1="225.0" y1="96.2" x2="222.0" y2="94.1" stroke="#40aaf0" stroke-width="0.8"/>
<line x1="226.7" y1="94.5" x2="223.4" y2="97.9" stroke="#40aaf0" stroke-width="0.8"/>
<line x1="227.4" y1="91.2" x2="227.0" y2="87.2" stroke="#40aaf0" stroke-width="0.8"/>
<line x1="229.6" y1="88.7" x2="231.5" y2="85.1" stroke="#40aaf0" stroke-width="0.8"/>
<line x1="233.8" y1="88.3" x2="231.4" y2="84.3" stroke="#40aaf0" stroke-width="0.8"/>
<line x1="235.7" y1="94.3" x2="238.5" y2="95.9" stroke="#40aaf0" stroke-width="0.8"/>
<path d="M231.2,95.9L243.9,95.9L231.6,92.5ZM230.5,95.1L240.8,102.9L232.3,93.3ZM229.9,94.4L233.1,109.2L232.9,94.0ZM229.8,93.6L226.4,108.4L233.0,94.8ZM230.9,92.7L218.2,98.4L231.9,95.7ZM231.3,93.0L219.7,94.9L231.5,95.4ZM232.2,93.1L222.3,87.3L230.6,95.3ZM232.9,93.7L226.5,79.5L229.9,94.7ZM232.8,94.8L236.6,81.6L230.0,93.6ZM232.2,95.1L240.3,85.5L230.6,93.3ZM231.4,95.4L239.7,94.3L231.4,93.0Z" fill="#40aaf0"/>
<circle cx="231.4" cy="94.2" r="2.1" fill="#40aaf0"/>
<line x1="266.0" y1="90.1" x2="268.7" y2="92.4" stroke="#40aaf0" stroke-width="0.8"/>
<line x1="263.9" y1="88.5" x2="261.3" y2="88.8" stroke="#40aaf0" stroke-width="0.8"/>
<line x1="262.4" y1="86.3" x2="260.9" y2="84.6" stroke="#40aaf0" stroke-width="0.8"/>
<line x1="262.3" y1="84.0" x2="259.3" y2="84.3" stroke="#40aaf0" stroke-width="0.8"/>
<line x1="265.2" y1="83.4" x2="266.7" y2="80.7" stroke="#40aaf0" stroke-width="0.8"/>
<line x1="266.4" y1="83.3" x2="269.0" y2="81.7" stroke="#40aaf0" stroke-width="0.8"/>
<line x1="269.3" y1="84.4" x2="271.6" y2="85.2" stroke="#40aaf0" stroke-width="0.8"/>
<line x1="268.0" y1="87.1" x2="269.0" y2="90.6" stroke="#40aaf0" stroke-width="0.8"/>
<line x1="269.8" y1="90.2" x2="272.2" y2="90.6" stroke="#40aaf0" stroke-width="0.8"/>
<path d="M264.8,86.4L266.0,96.3L267.2,86.4ZM265.2,85.6L260.1,92.2L266.8,87.2ZM266.0,85.4L257.3,86.2L266.0,87.4ZM266.6,85.5L258.5,81.5L265.4,87.3ZM266.8,86.2L264.6,80.6L265.2,86.6ZM267.1,86.5L266.7,80.4L264.9,86.3ZM266.5,87.3L272.0,82.7L265.5,85.5ZM265.6,87.5L271.2,88.3L266.4,85.3ZM265.2,87.2L272.4,92.8L266.8,85.6Z" fill="#40aaf0"/>
<circle cx="266.0" cy="86.4" r="1.5" fill="#40aaf0"/>
<line x1="257.9" y1="105.1" x2="261.0" y2="107.1" stroke="#40aaf0" stroke-width="0.8"/>
<line x1="252.9" y1="102.3" x2="252.0" y2="105.5" stroke="#40aaf0" stroke-width="0.8"/>
<line x1="256.4" y1="95.2" x2="257.9" y2="92.7" stroke="#40aaf0" stroke-width="0.8"/>
<line x1="263.3" y1="99.0" x2="266.4" y2="102.1" stroke="#40aaf0" stroke-width="0.8"/>
<path d="M256.4,101.0L269.1,107.5L258.0,98.6ZM255.8,100.0L259.1,114.1L258.6,99.6ZM256.2,99.0L250.8,108.2L258.2,100.6ZM256.6,98.7L250.0,103.9L257.8,100.9ZM257.7,98.7L250.2,96.8L256.7,100.9ZM258.5,99.6L255.8,91.6L255.9,100.0ZM258.3,100.6L262.2,93.0L256.1,99.0ZM257.4,101.1L269.3,98.3L257.0,98.5Z" fill="#40aaf0"/>
<circle cx="257.2" cy="99.8" r="1.9" fill="#40aaf0"/>
<line x1="202.0" y1="98.9" x2="203.0" y2="96.8" stroke="#40aaf0" stroke-width="0.8"/>
<line x1="205.1" y1="100.6" x2="208.4" y2="99.7" stroke="#40aaf0" stroke-width="0.8"/>
<path d="M203.7,105.2L209.5,102.7L203.3,103.4ZM203.4,105.3L214.0,105.0L203.6,103.3ZM202.7,104.7L207.8,113.5L204.3,103.9ZM202.7,104.2L202.1,113.2L204.3,104.4ZM203.2,103.5L196.6,106.7L203.8,105.1ZM203.6,103.4L193.6,103.2L203.4,105.2ZM204.6,104.0L200.4,93.3L202.4,104.6ZM204.3,104.6L206.4,97.8L202.7,104.0Z" fill="#40aaf0"/>
<circle cx="203.5" cy="104.3" r="1.5" fill="#40aaf0"/>
<line x1="252.4" y1="113.3" x2="252.5" y2="109.3" stroke="#40aaf0" stroke-width="0.8"/>
<line x1="255.1" y1="111.8" x2="253.3" y2="109.2" stroke="#40aaf0" stroke-width="0.8"/>
<line x1="261.3" y1="111.4" x2="262.5" y2="107.2" stroke="#40aaf0" stroke-width="0.8"/>
<line x1="259.9" y1="117.1" x2="262.0" y2="114.9" stroke="#40aaf0" stroke-width="0.8"/>
<line x1="250.4" y1="115.2" x2="247.8" y2="116.7" stroke="#40aaf0" stroke-width="0.8"/>
<path d="M255.9,115.9L250.7,111.1L254.1,117.3ZM256.1,116.6L255.3,106.0L253.9,116.6ZM255.7,117.5L265.8,107.6L254.3,115.7ZM254.9,117.9L265.3,117.6L255.1,115.3ZM254.4,117.5L264.8,123.5L255.6,115.7ZM253.8,116.4L254.0,123.5L256.2,116.8ZM254.1,115.8L250.1,122.2L255.9,117.4ZM255.0,115.3L242.7,116.9L255.0,117.9ZM255.3,115.6L245.7,113.8L254.7,117.6Z" fill="#40aaf0"/>
<circle cx="255.0" cy="116.6" r="1.9" fill="#40aaf0"/>
<path d="M219.5,120.6L224.8,115.1L218.5,119.4ZM219.0,120.9L225.2,120.3L219.0,119.1ZM218.4,120.7L225.2,125.6L219.6,119.3ZM218.2,119.9L217.9,125.6L219.8,120.1ZM218.6,119.3L213.3,123.4L219.4,120.7ZM219.0,119.2L214.1,120.1L219.0,120.8ZM219.5,119.4L215.4,117.0L218.5,120.6ZM219.8,120.2L220.5,114.4L218.2,119.8Z" fill="#40aaf0"/>
<circle cx="219.0" cy="120.0" r="1.1" fill="#40aaf0"/>
<path d="M201.7,77.0L198.7,83.1L203.1,77.8ZM202.4,76.6L198.2,77.2L202.4,78.2ZM202.9,76.8L197.3,73.6L201.9,78.0ZM203.2,77.4L202.5,72.7L201.6,77.4ZM202.8,78.1L207.9,74.6L202.0,76.7ZM202.0,78.1L207.0,80.1L202.8,76.7ZM201.6,77.6L203.8,83.6L203.2,77.2Z" fill="#40aaf0"/>
<circle cx="202.4" cy="77.4" r="1.0" fill="#40aaf0"/>
<line x1="303.6" y1="72.7" x2="304.8" y2="69.5" stroke="#40aaf0" stroke-width="0.8"/>
<line x1="298.9" y1="79.3" x2="301.3" y2="81.3" stroke="#40aaf0" stroke-width="0.8"/>
<line x1="296.2" y1="79.6" x2="293.3" y2="80.8" stroke="#40aaf0" stroke-width="0.8"/>
<line x1="295.5" y1="74.2" x2="293.4" y2="76.0" stroke="#40aaf0" stroke-width="0.8"/>
<line x1="297.0" y1="72.0" x2="297.4" y2="68.3" stroke="#40aaf0" stroke-width="0.8"/>
<path d="M299.4,75.3L310.8,70.8L298.6,72.7ZM298.2,74.8L307.6,83.1L299.8,73.2ZM297.7,74.0L298.9,83.2L300.3,74.0ZM298.1,73.5L293.8,84.6L299.9,74.5ZM298.9,72.8L289.8,74.4L299.1,75.2ZM299.9,73.1L294.2,69.1L298.1,74.9ZM300.1,73.6L296.4,66.7L297.9,74.4ZM300.0,75.0L303.9,69.3L298.0,73.0Z" fill="#40aaf0"/>
<circle cx="299.0" cy="74.0" r="1.7" fill="#40aaf0"/>
<line x1="320.0" y1="63.2" x2="317.3" y2="60.4" stroke="#40aaf0" stroke-width="0.8"/>
<line x1="323.1" y1="62.4" x2="326.4" y2="61.7" stroke="#40aaf0" stroke-width="0.8"/>
<line x1="324.2" y1="64.6" x2="324.3" y2="60.6" stroke="#40aaf0" stroke-width="0.8"/>
<line x1="316.8" y1="71.3" x2="317.3" y2="74.4" stroke="#40aaf0" stroke-width="0.8"/>
<line x1="315.5" y1="69.0" x2="313.6" y2="72.0" stroke="#40aaf0" stroke-width="0.8"/>
<line x1="315.2" y1="66.9" x2="311.7" y2="64.4" stroke="#40aaf0" stroke-width="0.8"/>
<path d="M321.5,66.5L314.2,58.9L319.1,68.3ZM321.5,67.3L319.6,56.6L319.1,67.5ZM321.3,68.0L325.9,57.4L319.3,66.8ZM320.9,68.3L327.4,62.4L319.7,66.5ZM320.1,68.5L331.1,69.1L320.5,66.3ZM319.6,68.4L330.1,74.6L321.0,66.4ZM319.1,67.6L321.9,76.1L321.5,67.2ZM318.9,66.9L318.1,74.3L321.7,67.9ZM319.5,66.7L314.1,74.2L321.1,68.1ZM319.9,66.3L312.0,70.1L320.7,68.5ZM320.4,66.2L311.1,66.6L320.2,68.6Z" fill="#40aaf0"/>
<circle cx="320.3" cy="67.4" r="1.9" fill="#40aaf0"/>
<line x1="312.9" y1="93.2" x2="310.2" y2="94.6" stroke="#40aaf0" stroke-width="0.8"/>
<line x1="310.1" y1="85.8" x2="308.8" y2="82.2" stroke="#40aaf0" stroke-width="0.8"/>
<line x1="319.8" y1="87.3" x2="323.8" y2="88.6" stroke="#40aaf0" stroke-width="0.8"/>
<line x1="317.5" y1="91.6" x2="321.1" y2="93.3" stroke="#40aaf0" stroke-width="0.8"/>
<path d="M314.9,88.0L310.3,97.4L316.9,89.2ZM315.2,87.3L305.4,93.8L316.6,89.9ZM316.6,87.2L305.8,83.8L315.2,90.0ZM316.9,87.9L308.9,79.4L314.9,89.3ZM317.4,89.1L318.1,81.7L314.4,88.1ZM316.3,89.9L322.8,86.3L315.5,87.3ZM315.4,89.9L327.1,93.1L316.4,87.3ZM314.9,89.1L320.4,97.1L316.9,88.1Z" fill="#40aaf0"/>
<circle cx="315.9" cy="88.6" r="1.9" fill="#40aaf0"/>
<line x1="300.0" y1="92.2" x2="300.4" y2="89.5" stroke="#40aaf0" stroke-width="0.8"/>
<line x1="301.5" y1="91.8" x2="304.2" y2="89.7" stroke="#40aaf0" stroke-width="0.8"/>
<line x1="305.0" y1="94.7" x2="307.0" y2="93.0" stroke="#40aaf0" stroke-width="0.8"/>
<line x1="303.5" y1="95.6" x2="305.8" y2="94.4" stroke="#40aaf0" stroke-width="0.8"/>
<line x1="305.5" y1="100.0" x2="309.0" y2="99.7" stroke="#40aaf0" stroke-width="0.8"/>
<line x1="296.8" y1="95.6" x2="295.1" y2="93.8" stroke="#40aaf0" stroke-width="0.8"/>
<line x1="298.3" y1="94.2" x2="295.7" y2="94.9" stroke="#40aaf0" stroke-width="0.8"/>
<path d="M302.2,94.9L298.7,88.9L300.4,95.7ZM302.4,95.4L302.0,85.4L300.2,95.2ZM302.1,95.9L308.0,86.9L300.5,94.7ZM301.5,96.3L309.3,94.0L301.1,94.3ZM301.2,96.2L307.0,96.0L301.4,94.4ZM300.7,95.9L308.8,103.6L301.9,94.7ZM300.2,95.3L301.2,106.4L302.4,95.3ZM300.5,94.7L295.7,101.8L302.1,95.9ZM301.2,94.2L290.1,96.0L301.4,96.4ZM301.6,94.5L295.7,93.3L301.0,96.1Z" fill="#40aaf0"/>
<circle cx="301.3" cy="95.3" r="1.5" fill="#40aaf0"/>
<line x1="277.9" y1="99.0" x2="277.3" y2="102.4" stroke="#40aaf0" stroke-width="0.8"/>
<line x1="277.3" y1="94.1" x2="274.2" y2="95.0" stroke="#40aaf0" stroke-width="0.8"/>
<line x1="279.3" y1="92.3" x2="279.9" y2="89.2" stroke="#40aaf0" stroke-width="0.8"/>
<line x1="284.6" y1="94.0" x2="285.6" y2="90.7" stroke="#40aaf0" stroke-width="0.8"/>
<line x1="284.1" y1="96.0" x2="285.7" y2="93.1" stroke="#40aaf0" stroke-width="0.8"/>
<line x1="285.1" y1="99.3" x2="289.0" y2="99.6" stroke="#40aaf0" stroke-width="0.8"/>
<line x1="282.8" y1="98.6" x2="285.7" y2="99.0" stroke="#40aaf0" stroke-width="0.8"/>
<path d="M280.6,95.6L272.3,103.5L281.8,97.2ZM281.1,95.2L274.2,97.2L281.3,97.6ZM281.8,95.4L272.6,91.2L280.6,97.4ZM282.5,95.8L276.2,85.6L279.9,97.0ZM282.4,96.9L285.3,85.7L280.0,95.9ZM281.9,97.5L289.0,91.0L280.5,95.3ZM281.3,97.4L289.0,95.3L281.1,95.4ZM280.6,97.1L289.5,102.7L281.8,95.7ZM280.3,97.1L285.2,101.9L282.1,95.7ZM280.1,96.3L280.4,108.5L282.3,96.5Z" fill="#40aaf0"/>
<circle cx="281.2" cy="96.4" r="1.7" fill="#40aaf0"/>
<line x1="291.5" y1="111.4" x2="294.2" y2="113.9" stroke="#40aaf0" stroke-width="0.8"/>
<line x1="291.5" y1="115.8" x2="292.4" y2="118.9" stroke="#40aaf0" stroke-width="0.8"/>
<line x1="283.9" y1="118.5" x2="284.4" y2="121.4" stroke="#40aaf0" stroke-width="0.8"/>
<line x1="280.4" y1="114.9" x2="277.6" y2="113.6" stroke="#40aaf0" stroke-width="0.8"/>
<line x1="282.4" y1="109.0" x2="281.2" y2="105.2" stroke="#40aaf0" stroke-width="0.8"/>
<line x1="288.6" y1="110.7" x2="292.6" y2="110.9" stroke="#40aaf0" stroke-width="0.8"/>
<path d="M286.9,113.1L296.5,110.7L286.7,110.9ZM285.9,113.1L295.6,119.1L287.7,110.9ZM285.7,112.5L291.9,123.8L287.9,111.5ZM285.8,111.5L282.0,122.9L287.8,112.5ZM286.2,110.7L274.9,117.5L287.4,113.3ZM286.9,111.1L274.4,110.9L286.7,112.9ZM287.3,111.2L277.3,105.4L286.3,112.8ZM287.7,111.6L284.5,106.0L285.9,112.4ZM288.0,112.3L289.0,103.0L285.6,111.7ZM287.4,112.8L292.1,108.3L286.2,111.2Z" fill="#40aaf0"/>
<circle cx="286.8" cy="112.0" r="1.7" fill="#40aaf0"/>
<line x1="328.7" y1="93.8" x2="326.7" y2="91.2" stroke="#40aaf0" stroke-width="0.8"/>
<line x1="329.7" y1="98.4" x2="330.4" y2="95.0" stroke="#40aaf0" stroke-width="0.8"/>
<line x1="330.0" y1="100.4" x2="333.1" y2="98.6" stroke="#40aaf0" stroke-width="0.8"/>
<line x1="328.1" y1="102.1" x2="330.5" y2="102.9" stroke="#40aaf0" stroke-width="0.8"/>
<line x1="322.9" y1="101.0" x2="321.9" y2="103.7" stroke="#40aaf0" stroke-width="0.8"/>
<line x1="324.3" y1="98.0" x2="320.8" y2="98.7" stroke="#40aaf0" stroke-width="0.8"/>
<path d="M328.1,100.1L330.2,88.7L325.9,99.5ZM327.5,100.8L334.5,95.9L326.5,98.8ZM326.8,100.7L333.9,101.2L327.2,98.9ZM326.2,100.2L329.9,106.2L327.8,99.4ZM326.0,99.1L321.3,107.9L328.0,100.5ZM326.7,98.7L317.7,102.5L327.3,100.9ZM327.6,98.9L320.5,95.5L326.4,100.7Z" fill="#40aaf0"/>
<circle cx="327.0" cy="99.8" r="1.5" fill="#40aaf0"/>
<path d="M272.7,84.6L266.9,81.8L271.7,86.0ZM273.0,85.0L270.5,80.7L271.4,85.6ZM273.0,85.6L274.4,80.2L271.4,85.0ZM272.7,86.0L275.9,82.8L271.7,84.6ZM272.4,86.1L278.1,83.8L272.0,84.5ZM272.0,86.1L280.6,87.8L272.4,84.5ZM271.5,85.8L275.6,90.2L272.9,84.8ZM271.4,85.4L273.6,92.9L273.0,85.2ZM271.6,84.7L267.8,89.4L272.8,85.9ZM272.0,84.5L266.1,87.1L272.4,86.1ZM272.2,84.5L264.0,85.4L272.2,86.1Z" fill="#40aaf0"/>
<circle cx="272.2" cy="85.3" r="1.1" fill="#40aaf0"/>
<path d="M337.8,76.1L335.0,69.3L336.2,76.5ZM337.8,76.4L338.0,70.8L336.2,76.2ZM337.3,77.1L342.2,74.0L336.7,75.5ZM336.6,77.1L343.0,79.5L337.4,75.5ZM336.3,76.7L340.7,82.5L337.7,75.9ZM336.2,76.0L335.3,80.6L337.8,76.6ZM336.6,75.6L331.4,79.5L337.4,77.0ZM337.3,75.5L333.1,74.9L336.7,77.1Z" fill="#40aaf0"/>
<circle cx="337.0" cy="76.3" r="1.1" fill="#40aaf0"/>
<path d="M301.9,28.3L305.1,30.2L303.1,27.1ZM301.7,27.7L302.6,33.8L303.3,27.7ZM301.8,27.3L298.9,33.2L303.2,28.1ZM302.3,26.9L298.5,29.0L302.7,28.5ZM302.8,27.0L297.8,25.7L302.2,28.4ZM303.1,27.1L299.5,24.5L301.9,28.3ZM303.3,27.7L302.1,20.7L301.7,27.7ZM303.1,28.2L306.5,23.4L301.9,27.2ZM302.7,28.5L306.5,26.8L302.3,26.9ZM302.5,28.5L306.4,27.8L302.5,26.9Z" fill="#40aaf0"/>
<circle cx="302.5" cy="27.7" r="1.0" fill="#40aaf0"/>
<path d="M208.6,87.5L204.4,84.0L207.4,88.5ZM208.8,88.2L210.1,81.4L207.2,87.8ZM208.5,88.6L211.2,85.3L207.5,87.4ZM207.8,88.8L213.1,89.7L208.2,87.2ZM207.4,88.5L211.2,91.5L208.6,87.5ZM207.2,87.9L207.6,92.1L208.8,88.1ZM207.6,87.3L203.0,90.5L208.4,88.7ZM208.3,87.3L204.5,86.7L207.7,88.7Z" fill="#40aaf0"/>
<circle cx="208.0" cy="88.0" r="1.0" fill="#40aaf0"/>
<path d="M237.3,107.5L235.0,112.9L238.7,108.5ZM238.0,107.2L232.1,107.9L238.0,108.8ZM238.3,107.2L231.0,105.5L237.7,108.8ZM238.7,107.6L234.6,101.9L237.3,108.4ZM238.7,108.3L239.7,104.0L237.3,107.7ZM238.5,108.7L243.1,104.4L237.5,107.3ZM237.9,108.8L246.6,108.8L238.1,107.2ZM237.5,108.6L242.5,111.9L238.5,107.4ZM237.2,107.9L237.2,114.3L238.8,108.1Z" fill="#40aaf0"/>
<circle cx="238.0" cy="108.0" r="1.1" fill="#40aaf0"/>
<path d="M270.7,121.3L273.7,113.3L269.3,120.7ZM270.5,121.8L276.7,117.2L269.5,120.2ZM269.6,121.7L274.5,123.9L270.4,120.3ZM269.2,121.3L272.9,128.1L270.8,120.7ZM269.3,120.5L266.0,126.0L270.7,121.5ZM270.0,120.2L264.2,121.2L270.0,121.8ZM270.7,120.7L267.3,115.0L269.3,121.3Z" fill="#40aaf0"/>
<circle cx="270.0" cy="121.0" r="1.1" fill="#40aaf0"/>
<path d="M324.2,120.2L327.1,128.0L325.8,119.8ZM324.3,119.6L322.3,125.4L325.7,120.4ZM324.4,119.3L321.0,123.7L325.6,120.7ZM325.3,119.2L318.4,117.4L324.7,120.8ZM325.6,119.5L321.7,115.5L324.4,120.5ZM325.8,119.8L323.0,111.6L324.2,120.2ZM325.6,120.5L329.9,114.8L324.4,119.5ZM325.1,120.9L332.8,118.7L324.9,119.1ZM324.5,120.6L329.5,123.9L325.5,119.4Z" fill="#40aaf0"/>
<circle cx="325.0" cy="120.0" r="1.1" fill="#40aaf0"/></g>
<g filter="url(#soft2)"><path d="M217.4,6.7L213.5,7.7L217.4,8.3ZM218.0,7.0L214.1,3.1L216.8,8.0ZM218.2,7.4L216.4,0.4L216.6,7.6ZM218.0,8.0L220.2,4.3L216.8,7.0ZM217.2,8.3L221.4,8.6L217.6,6.7ZM216.7,8.0L221.0,12.8L218.1,7.0ZM216.7,7.2L215.8,11.3L218.1,7.8Z" fill="#3092e6"/>
<circle cx="217.4" cy="7.5" r="1.0" fill="#3092e6"/>
<path d="M231.8,7.7L235.3,5.3L231.2,6.3ZM231.3,7.8L238.3,9.2L231.7,6.2ZM230.9,7.6L234.4,10.0L232.1,6.4ZM230.7,6.9L231.2,10.5L232.3,7.1ZM230.8,6.5L228.1,11.8L232.2,7.5ZM231.2,6.3L225.8,9.6L231.8,7.7ZM231.6,6.2L227.3,6.7L231.4,7.8ZM231.9,6.3L227.4,4.8L231.1,7.7ZM232.3,6.7L229.2,0.8L230.7,7.3ZM232.2,7.3L234.2,0.3L230.8,6.7ZM232.1,7.5L233.9,3.7L230.9,6.5Z" fill="#3092e6"/>
<circle cx="231.5" cy="7.0" r="1.0" fill="#3092e6"/>
<path d="M204.0,23.8L205.4,19.0L202.6,23.0ZM203.6,24.3L208.8,21.7L203.0,22.5ZM203.1,24.2L208.6,24.5L203.5,22.6ZM202.7,23.9L208.6,29.6L203.9,22.9ZM202.6,23.7L205.7,28.5L204.0,23.1ZM202.5,23.4L202.9,30.8L204.1,23.4ZM202.8,22.6L197.3,27.1L203.8,24.2ZM203.0,22.5L198.7,24.8L203.6,24.3ZM203.5,22.6L199.1,22.4L203.1,24.2ZM204.1,22.9L198.9,16.6L202.5,23.9ZM204.2,23.4L203.2,16.6L202.4,23.4Z" fill="#3092e6"/>
<circle cx="203.3" cy="23.4" r="1.1" fill="#3092e6"/>
<line x1="212.8" y1="40.4" x2="215.4" y2="42.2" stroke="#3092e6" stroke-width="0.8"/>
<line x1="207.2" y1="34.3" x2="204.5" y2="34.9" stroke="#3092e6" stroke-width="0.8"/>
<line x1="209.8" y1="33.5" x2="205.9" y2="33.2" stroke="#3092e6" stroke-width="0.8"/>
<line x1="213.4" y1="32.8" x2="211.8" y2="30.2" stroke="#3092e6" stroke-width="0.8"/>
<line x1="216.5" y1="36.5" x2="218.5" y2="34.1" stroke="#3092e6" stroke-width="0.8"/>
<path d="M210.8,37.2L218.1,45.5L213.2,35.6ZM210.6,36.7L214.2,47.6L213.4,36.1ZM211.2,35.5L207.0,41.3L212.8,37.3ZM211.8,35.1L199.9,38.6L212.2,37.7ZM212.5,35.3L202.0,32.0L211.5,37.5ZM213.1,35.6L207.0,29.8L210.9,37.2ZM213.0,36.4L212.2,26.3L211.0,36.4ZM212.9,36.8L215.2,28.0L211.1,36.0ZM212.4,37.4L223.8,32.1L211.6,35.4ZM212.0,37.7L221.4,36.5L212.0,35.1Z" fill="#3092e6"/>
<circle cx="212.0" cy="36.4" r="1.7" fill="#3092e6"/>
<line x1="244.3" y1="38.3" x2="246.6" y2="37.3" stroke="#3092e6" stroke-width="0.8"/>
<line x1="240.6" y1="40.9" x2="239.2" y2="43.4" stroke="#3092e6" stroke-width="0.8"/>
<line x1="234.9" y1="40.5" x2="232.5" y2="40.2" stroke="#3092e6" stroke-width="0.8"/>
<line x1="238.8" y1="35.6" x2="235.5" y2="35.0" stroke="#3092e6" stroke-width="0.8"/>
<line x1="239.6" y1="34.4" x2="237.5" y2="32.2" stroke="#3092e6" stroke-width="0.8"/>
<line x1="242.9" y1="34.6" x2="242.2" y2="31.3" stroke="#3092e6" stroke-width="0.8"/>
<path d="M240.0,38.4L249.8,39.3L240.4,36.6ZM239.2,38.0L245.5,47.1L241.2,37.0ZM239.1,37.6L241.4,46.9L241.3,37.4ZM239.3,37.2L238.7,42.7L241.1,37.8ZM239.7,36.6L230.5,43.0L240.7,38.4ZM240.5,36.4L230.4,34.7L239.9,38.6ZM241.2,36.8L237.0,33.1L239.2,38.2ZM241.3,37.3L238.7,29.8L239.1,37.7ZM241.1,38.3L244.9,32.5L239.3,36.7ZM240.8,38.3L245.8,33.4L239.6,36.7Z" fill="#3092e6"/>
<circle cx="240.2" cy="37.5" r="1.5" fill="#3092e6"/>
<line x1="259.7" y1="21.1" x2="261.5" y2="18.3" stroke="#3092e6" stroke-width="0.8"/>
<line x1="265.2" y1="32.9" x2="268.2" y2="32.4" stroke="#3092e6" stroke-width="0.8"/>
<line x1="257.2" y1="29.1" x2="256.1" y2="32.3" stroke="#3092e6" stroke-width="0.8"/>
<line x1="254.6" y1="26.5" x2="252.5" y2="24.2" stroke="#3092e6" stroke-width="0.8"/>
<line x1="257.1" y1="25.2" x2="253.3" y2="25.3" stroke="#3092e6" stroke-width="0.8"/>
<path d="M261.1,27.7L259.8,16.0L258.3,27.7ZM260.5,28.7L265.8,22.6L258.9,26.7ZM259.9,29.1L270.4,26.2L259.5,26.3ZM258.9,28.5L269.2,36.7L260.5,26.9ZM258.3,27.6L259.3,36.7L261.1,27.8ZM259.1,26.6L254.2,30.8L260.3,28.8ZM259.9,26.8L250.7,25.5L259.5,28.6ZM260.7,26.7L253.5,21.9L258.7,28.7Z" fill="#3092e6"/>
<circle cx="259.7" cy="27.7" r="1.7" fill="#3092e6"/>
<path d="M224.3,45.7L222.9,50.6L225.7,46.3ZM224.9,45.2L220.2,46.8L225.1,46.8ZM225.1,45.2L217.3,45.4L224.9,46.8ZM225.7,45.6L221.9,40.8L224.3,46.4ZM225.8,45.8L223.1,38.4L224.2,46.2ZM225.7,46.5L228.1,41.2L224.3,45.5ZM225.3,46.8L229.0,44.4L224.7,45.2ZM224.9,46.8L232.9,47.4L225.1,45.2ZM224.3,46.4L227.4,49.9L225.7,45.6ZM224.1,46.0L224.9,54.0L225.9,46.0Z" fill="#3092e6"/>
<circle cx="225.0" cy="46.0" r="1.1" fill="#3092e6"/>
<line x1="249.6" y1="50.1" x2="246.2" y2="52.7" stroke="#3092e6" stroke-width="0.8"/>
<line x1="249.1" y1="43.7" x2="249.9" y2="39.3" stroke="#3092e6" stroke-width="0.8"/>
<line x1="253.5" y1="44.6" x2="250.3" y2="41.9" stroke="#3092e6" stroke-width="0.8"/>
<line x1="255.8" y1="47.4" x2="256.2" y2="43.4" stroke="#3092e6" stroke-width="0.8"/>
<line x1="252.8" y1="54.8" x2="255.5" y2="58.3" stroke="#3092e6" stroke-width="0.8"/>
<line x1="251.8" y1="53.4" x2="248.5" y2="55.0" stroke="#3092e6" stroke-width="0.8"/>
<path d="M253.3,49.4L245.1,49.7L253.1,51.6ZM254.0,49.8L247.5,43.8L252.4,51.2ZM254.3,49.8L245.9,38.2L252.1,51.2ZM254.6,50.6L253.7,39.8L251.8,50.4ZM254.3,51.4L260.0,42.3L252.1,49.6ZM253.3,51.7L264.5,49.3L253.1,49.3ZM252.5,51.8L259.6,53.9L253.9,49.2ZM252.4,51.2L258.7,56.4L254.0,49.8ZM252.1,50.4L252.4,59.9L254.3,50.6ZM252.2,50.0L250.0,57.3L254.2,51.0ZM252.4,49.3L245.6,55.3L254.0,51.7Z" fill="#3092e6"/>
<circle cx="253.2" cy="50.5" r="1.9" fill="#3092e6"/>
<line x1="227.0" y1="52.7" x2="225.6" y2="49.9" stroke="#3092e6" stroke-width="0.8"/>
<line x1="233.1" y1="52.8" x2="235.9" y2="52.8" stroke="#3092e6" stroke-width="0.8"/>
<line x1="233.7" y1="56.4" x2="234.8" y2="59.2" stroke="#3092e6" stroke-width="0.8"/>
<line x1="231.1" y1="57.9" x2="233.4" y2="59.7" stroke="#3092e6" stroke-width="0.8"/>
<path d="M229.5,54.4L226.8,65.0L231.5,55.2ZM230.2,53.7L222.8,56.9L230.8,55.9ZM230.9,54.1L224.5,51.2L230.1,55.5ZM231.7,54.9L231.1,48.8L229.3,54.7ZM231.0,55.5L236.5,50.2L230.0,54.1ZM230.0,55.9L236.8,58.0L231.0,53.7ZM229.5,55.0L231.6,60.3L231.5,54.6Z" fill="#3092e6"/>
<circle cx="230.5" cy="54.8" r="1.5" fill="#3092e6"/>
<path d="M240.3,50.2L246.5,48.5L240.1,48.6ZM240.0,50.2L245.5,50.8L240.4,48.6ZM239.6,49.9L242.6,52.0L240.8,48.9ZM239.4,49.4L240.2,55.7L241.0,49.4ZM239.4,49.2L239.4,53.6L241.0,49.6ZM239.7,48.8L237.2,52.1L240.7,50.0ZM240.1,48.6L234.6,50.3L240.3,50.2ZM240.6,48.7L236.2,46.9L239.8,50.1ZM240.9,49.0L236.3,43.3L239.5,49.8ZM241.0,49.3L239.6,44.5L239.4,49.5ZM240.8,50.0L242.8,46.7L239.6,48.8Z" fill="#3092e6"/>
<circle cx="240.2" cy="49.4" r="1.0" fill="#3092e6"/>
<line x1="260.1" y1="64.0" x2="258.3" y2="62.5" stroke="#3092e6" stroke-width="0.8"/>
<line x1="261.6" y1="62.0" x2="259.0" y2="62.0" stroke="#3092e6" stroke-width="0.8"/>
<line x1="262.2" y1="61.7" x2="261.6" y2="59.1" stroke="#3092e6" stroke-width="0.8"/>
<line x1="263.5" y1="61.6" x2="264.8" y2="59.0" stroke="#3092e6" stroke-width="0.8"/>
<line x1="266.2" y1="61.1" x2="269.2" y2="61.3" stroke="#3092e6" stroke-width="0.8"/>
<line x1="268.6" y1="61.9" x2="271.1" y2="63.1" stroke="#3092e6" stroke-width="0.8"/>
<line x1="266.9" y1="63.1" x2="268.6" y2="64.3" stroke="#3092e6" stroke-width="0.8"/>
<line x1="266.1" y1="67.0" x2="268.8" y2="68.1" stroke="#3092e6" stroke-width="0.8"/>
<line x1="262.9" y1="66.9" x2="261.4" y2="68.1" stroke="#3092e6" stroke-width="0.8"/>
<line x1="261.2" y1="67.4" x2="262.0" y2="70.2" stroke="#3092e6" stroke-width="0.8"/>
<path d="M263.9,62.4L255.1,64.6L264.1,64.6ZM264.4,62.8L259.4,60.7L263.6,64.2ZM264.6,62.9L260.3,59.7L263.4,64.1ZM264.9,63.3L262.8,58.3L263.1,63.7ZM264.8,64.2L268.4,58.7L263.2,62.8ZM264.3,64.5L273.1,60.5L263.7,62.5ZM264.1,64.4L269.0,62.7L263.9,62.6ZM263.5,64.3L268.4,66.7L264.5,62.7ZM263.2,64.0L267.9,70.1L264.8,63.0ZM263.2,63.2L261.6,71.2L264.8,63.8ZM263.4,63.0L258.8,70.7L264.6,64.0Z" fill="#3092e6"/>
<circle cx="264.0" cy="63.5" r="1.3" fill="#3092e6"/>
<path d="M200.8,54.5L205.6,55.1L201.2,52.9ZM200.5,54.3L205.1,57.2L201.5,53.1ZM200.2,53.9L201.7,57.3L201.8,53.5ZM200.4,53.2L198.4,56.8L201.6,54.2ZM200.9,52.9L197.5,54.2L201.1,54.5ZM201.5,53.0L196.5,50.6L200.5,54.4ZM201.7,53.4L199.2,49.1L200.3,54.0ZM201.8,53.8L201.2,50.1L200.2,53.6ZM201.4,54.4L204.3,52.0L200.6,53.0Z" fill="#3092e6"/>
<circle cx="201.0" cy="53.7" r="1.0" fill="#3092e6"/>
<line x1="291.0" y1="12.3" x2="293.5" y2="9.7" stroke="#3092e6" stroke-width="0.8"/>
<line x1="295.0" y1="17.6" x2="297.6" y2="19.5" stroke="#3092e6" stroke-width="0.8"/>
<line x1="294.5" y1="22.2" x2="294.4" y2="25.0" stroke="#3092e6" stroke-width="0.8"/>
<line x1="290.0" y1="21.6" x2="286.9" y2="23.3" stroke="#3092e6" stroke-width="0.8"/>
<path d="M289.9,17.3L284.4,26.0L291.3,18.5ZM290.5,16.5L277.8,18.8L290.7,19.3ZM291.1,16.8L281.6,14.2L290.1,19.0ZM291.4,17.5L286.5,10.0L289.8,18.3ZM292.0,18.0L291.4,7.4L289.2,17.8ZM291.3,19.0L299.3,12.2L289.9,16.8ZM290.7,19.2L302.5,17.1L290.5,16.6ZM289.7,18.7L298.0,26.1L291.5,17.1ZM289.2,17.7L289.2,26.8L292.0,18.1Z" fill="#3092e6"/>
<circle cx="290.6" cy="17.9" r="1.7" fill="#3092e6"/>
<path d="M274.5,18.2L268.9,17.4L274.1,19.8ZM275.1,18.8L273.3,14.4L273.5,19.2ZM275.1,19.3L277.0,12.0L273.5,18.7ZM274.7,19.8L279.6,16.2L273.9,18.2ZM274.3,19.8L281.1,18.8L274.3,18.2ZM273.5,19.5L277.7,24.5L275.1,18.5ZM273.5,18.9L273.3,24.3L275.1,19.1ZM273.7,18.5L271.8,22.4L274.9,19.5ZM274.0,18.2L269.1,20.6L274.6,19.8Z" fill="#3092e6"/>
<circle cx="274.3" cy="19.0" r="1.1" fill="#3092e6"/>
<line x1="283.0" y1="33.7" x2="280.9" y2="35.4" stroke="#3092e6" stroke-width="0.8"/>
<line x1="282.5" y1="31.1" x2="281.1" y2="28.3" stroke="#3092e6" stroke-width="0.8"/>
<line x1="289.9" y1="28.0" x2="289.6" y2="25.6" stroke="#3092e6" stroke-width="0.8"/>
<line x1="290.6" y1="31.7" x2="291.8" y2="28.8" stroke="#3092e6" stroke-width="0.8"/>
<line x1="288.4" y1="36.1" x2="290.7" y2="36.3" stroke="#3092e6" stroke-width="0.8"/>
<line x1="285.5" y1="35.6" x2="286.8" y2="37.6" stroke="#3092e6" stroke-width="0.8"/>
<line x1="282.9" y1="36.2" x2="282.7" y2="38.9" stroke="#3092e6" stroke-width="0.8"/>
<path d="M286.2,32.3L280.2,34.2L286.4,33.9ZM286.8,32.1L276.5,27.9L285.8,34.1ZM287.4,32.6L283.2,25.4L285.2,33.6ZM287.3,33.8L292.5,24.5L285.3,32.4ZM286.7,34.3L294.4,30.5L285.9,31.9ZM286.0,34.0L295.1,36.5L286.6,32.2ZM285.4,33.7L290.2,38.7L287.2,32.5ZM285.2,32.8L284.4,38.9L287.4,33.4ZM285.7,32.4L278.0,40.5L286.9,33.8Z" fill="#3092e6"/>
<circle cx="286.3" cy="33.1" r="1.5" fill="#3092e6"/>
<line x1="277.6" y1="37.8" x2="279.3" y2="35.4" stroke="#3092e6" stroke-width="0.8"/>
<line x1="279.1" y1="40.0" x2="280.0" y2="42.5" stroke="#3092e6" stroke-width="0.8"/>
<line x1="271.0" y1="39.7" x2="269.5" y2="42.8" stroke="#3092e6" stroke-width="0.8"/>
<line x1="271.5" y1="36.1" x2="271.2" y2="33.6" stroke="#3092e6" stroke-width="0.8"/>
<line x1="273.3" y1="36.2" x2="273.7" y2="33.9" stroke="#3092e6" stroke-width="0.8"/>
<path d="M275.3,39.2L278.3,32.5L273.3,37.8ZM274.5,39.5L281.0,37.1L274.1,37.5ZM273.9,39.7L283.7,41.3L274.7,37.3ZM273.4,38.6L275.6,50.0L275.2,38.4ZM273.2,38.0L270.0,49.1L275.4,39.0ZM273.9,37.4L265.2,41.7L274.7,39.6ZM274.9,37.8L267.2,32.3L273.7,39.2ZM275.4,38.0L271.6,32.3L273.2,39.0Z" fill="#3092e6"/>
<circle cx="274.3" cy="38.5" r="1.5" fill="#3092e6"/>
<line x1="315.1" y1="33.8" x2="314.3" y2="30.4" stroke="#3092e6" stroke-width="0.8"/>
<line x1="320.7" y1="36.3" x2="322.9" y2="32.8" stroke="#3092e6" stroke-width="0.8"/>
<line x1="321.3" y1="40.0" x2="324.2" y2="44.1" stroke="#3092e6" stroke-width="0.8"/>
<line x1="317.4" y1="46.2" x2="315.7" y2="49.9" stroke="#3092e6" stroke-width="0.8"/>
<line x1="314.7" y1="43.5" x2="312.0" y2="47.4" stroke="#3092e6" stroke-width="0.8"/>
<line x1="308.8" y1="41.4" x2="308.7" y2="44.9" stroke="#3092e6" stroke-width="0.8"/>
<line x1="305.7" y1="36.5" x2="303.1" y2="38.7" stroke="#3092e6" stroke-width="0.8"/>
<line x1="308.0" y1="32.8" x2="308.2" y2="28.6" stroke="#3092e6" stroke-width="0.8"/>
<line x1="313.5" y1="31.8" x2="310.2" y2="29.1" stroke="#3092e6" stroke-width="0.8"/>
<path d="M314.7,38.1L317.6,28.6L312.1,36.9ZM313.7,39.3L326.4,35.4L313.1,35.7ZM312.9,39.1L326.7,41.6L313.9,35.9ZM312.1,38.1L320.2,52.2L314.7,36.9ZM311.8,37.8L316.9,53.6L315.0,37.2ZM312.5,36.4L303.4,46.1L314.3,38.6ZM312.6,36.0L300.9,43.9L314.2,39.0ZM313.6,36.0L298.6,35.6L313.2,39.0ZM314.3,36.4L304.0,29.4L312.5,38.6ZM315.3,37.5L313.6,26.7L311.5,37.5Z" fill="#3092e6"/>
<circle cx="313.4" cy="37.5" r="2.3" fill="#3092e6"/>
<line x1="336.3" y1="40.9" x2="335.8" y2="37.8" stroke="#3092e6" stroke-width="0.8"/>
<line x1="337.4" y1="44.5" x2="339.7" y2="43.5" stroke="#3092e6" stroke-width="0.8"/>
<line x1="336.9" y1="48.1" x2="340.1" y2="49.4" stroke="#3092e6" stroke-width="0.8"/>
<line x1="333.2" y1="47.6" x2="334.9" y2="49.4" stroke="#3092e6" stroke-width="0.8"/>
<line x1="331.5" y1="45.7" x2="330.4" y2="47.8" stroke="#3092e6" stroke-width="0.8"/>
<path d="M334.8,44.6L338.6,37.8L333.2,43.4ZM333.8,45.2L341.1,45.2L334.2,42.8ZM333.3,44.5L339.7,52.0L334.7,43.5ZM332.9,43.8L332.7,50.2L335.1,44.2ZM333.5,43.2L328.7,47.5L334.5,44.8ZM334.4,43.2L326.9,40.0L333.6,44.8ZM335.2,43.8L333.0,37.2L332.8,44.2Z" fill="#3092e6"/>
<circle cx="334.0" cy="44.0" r="1.5" fill="#3092e6"/>
<line x1="281.6" y1="56.8" x2="282.8" y2="59.8" stroke="#3092e6" stroke-width="0.8"/>
<line x1="276.0" y1="56.4" x2="273.1" y2="55.6" stroke="#3092e6" stroke-width="0.8"/>
<line x1="281.6" y1="51.0" x2="284.8" y2="49.7" stroke="#3092e6" stroke-width="0.8"/>
<path d="M277.9,56.0L284.9,59.1L279.5,53.6ZM277.3,54.7L278.2,64.9L280.1,54.9ZM277.9,53.4L271.7,58.9L279.5,56.2ZM279.0,53.6L270.5,52.8L278.4,56.0ZM279.7,54.3L273.7,43.6L277.7,55.3ZM279.5,55.4L285.2,46.3L277.9,54.2ZM278.8,56.2L289.3,54.2L278.6,53.4Z" fill="#3092e6"/>
<circle cx="278.7" cy="54.8" r="1.9" fill="#3092e6"/>
<path d="M299.7,55.6L298.2,61.0L301.1,56.2ZM300.5,55.1L294.6,54.9L300.3,56.7ZM300.9,55.3L295.8,51.6L299.9,56.5ZM301.2,56.0L300.9,51.8L299.6,55.8ZM300.7,56.6L307.2,53.2L300.1,55.2ZM299.9,56.5L304.5,59.0L300.9,55.3ZM299.6,56.1L301.7,60.3L301.2,55.7Z" fill="#3092e6"/>
<circle cx="300.4" cy="55.9" r="1.1" fill="#3092e6"/>
<line x1="318.6" y1="55.5" x2="321.2" y2="53.9" stroke="#3092e6" stroke-width="0.8"/>
<line x1="319.6" y1="59.8" x2="322.7" y2="60.1" stroke="#3092e6" stroke-width="0.8"/>
<line x1="313.3" y1="61.2" x2="311.3" y2="63.2" stroke="#3092e6" stroke-width="0.8"/>
<path d="M317.5,61.6L319.9,51.6L315.7,61.0ZM317.0,62.1L324.3,57.5L316.2,60.5ZM316.5,62.2L323.4,62.3L316.7,60.4ZM316.1,62.0L323.2,65.9L317.1,60.6ZM315.5,61.7L319.3,68.8L317.7,60.9ZM315.8,61.1L315.3,66.8L317.4,61.5ZM315.8,60.4L310.2,66.7L317.4,62.2ZM316.6,60.5L307.2,61.1L316.6,62.1ZM317.5,60.5L312.2,56.6L315.7,62.1ZM317.6,61.0L313.5,51.7L315.6,61.6Z" fill="#3092e6"/>
<circle cx="316.6" cy="61.3" r="1.5" fill="#3092e6"/>
<line x1="332.0" y1="53.2" x2="332.7" y2="50.7" stroke="#3092e6" stroke-width="0.8"/>
<line x1="336.6" y1="52.4" x2="339.5" y2="51.1" stroke="#3092e6" stroke-width="0.8"/>
<line x1="339.5" y1="59.2" x2="342.5" y2="58.0" stroke="#3092e6" stroke-width="0.8"/>
<line x1="337.1" y1="59.3" x2="339.8" y2="58.5" stroke="#3092e6" stroke-width="0.8"/>
<line x1="332.8" y1="61.6" x2="329.8" y2="62.3" stroke="#3092e6" stroke-width="0.8"/>
<line x1="331.1" y1="60.7" x2="330.8" y2="63.9" stroke="#3092e6" stroke-width="0.8"/>
<path d="M334.8,57.1L327.8,59.9L335.2,58.9ZM335.3,57.0L325.7,55.2L334.7,59.0ZM335.7,57.5L329.6,49.5L334.3,58.5ZM336.0,58.3L338.0,47.5L334.0,57.7ZM335.8,58.5L338.4,53.0L334.2,57.5ZM335.3,58.9L342.5,55.7L334.7,57.1ZM334.8,58.9L344.1,60.5L335.2,57.1ZM334.3,59.0L340.4,61.5L335.7,57.0ZM334.2,58.2L336.3,63.3L335.8,57.8ZM334.0,57.4L329.9,66.4L336.0,58.6ZM334.5,57.3L328.0,62.9L335.5,58.7Z" fill="#3092e6"/>
<circle cx="335.0" cy="58.0" r="1.5" fill="#3092e6"/>
<line x1="217.5" y1="69.1" x2="218.0" y2="66.1" stroke="#3092e6" stroke-width="0.8"/>
<line x1="222.5" y1="69.9" x2="225.1" y2="68.0" stroke="#3092e6" stroke-width="0.8"/>
<line x1="228.1" y1="76.7" x2="231.2" y2="75.9" stroke="#3092e6" stroke-width="0.8"/>
<line x1="219.5" y1="79.1" x2="216.4" y2="80.9" stroke="#3092e6" stroke-width="0.8"/>
<line x1="215.6" y1="76.2" x2="213.0" y2="75.1" stroke="#3092e6" stroke-width="0.8"/>
<path d="M222.6,73.0L214.9,65.8L220.2,75.0ZM222.8,74.4L224.3,62.9L220.0,73.6ZM222.1,74.8L228.8,68.1L220.7,73.2ZM221.0,75.0L234.5,79.3L221.8,73.0ZM220.4,74.8L228.6,83.5L222.4,73.2ZM220.2,73.6L216.7,86.4L222.6,74.4ZM221.0,73.0L210.2,78.3L221.8,75.0ZM221.7,72.5L211.4,72.3L221.1,75.5Z" fill="#3092e6"/>
<circle cx="221.4" cy="74.0" r="1.9" fill="#3092e6"/>
<line x1="238.4" y1="69.6" x2="238.3" y2="71.6" stroke="#3092e6" stroke-width="0.8"/>
<line x1="244.6" y1="66.9" x2="246.7" y2="65.0" stroke="#3092e6" stroke-width="0.8"/>
<path d="M239.6,67.5L241.9,75.7L241.2,67.3ZM239.7,66.7L236.6,71.4L241.1,68.1ZM240.4,66.4L232.3,67.1L240.4,68.4ZM241.2,66.9L237.6,62.7L239.6,67.9ZM241.2,67.5L242.1,58.3L239.6,67.3ZM240.5,68.4L249.7,66.2L240.3,66.4ZM239.8,68.2L245.3,71.2L241.0,66.6Z" fill="#3092e6"/>
<circle cx="240.4" cy="67.4" r="1.3" fill="#3092e6"/>
<line x1="247.3" y1="86.0" x2="250.1" y2="87.4" stroke="#3092e6" stroke-width="0.8"/>
<line x1="244.7" y1="85.3" x2="246.3" y2="88.0" stroke="#3092e6" stroke-width="0.8"/>
<line x1="242.0" y1="78.9" x2="241.6" y2="76.4" stroke="#3092e6" stroke-width="0.8"/>
<line x1="246.8" y1="79.7" x2="250.0" y2="78.4" stroke="#3092e6" stroke-width="0.8"/>
<path d="M245.6,82.8L252.5,84.9L246.4,81.0ZM245.0,82.2L249.0,91.4L247.0,81.6ZM244.9,81.5L242.5,91.0L247.1,82.3ZM245.9,80.9L239.7,82.6L246.1,82.9ZM246.8,80.9L238.5,76.2L245.2,82.9ZM247.1,82.3L248.2,75.9L244.9,81.5ZM246.7,82.7L252.1,77.0L245.3,81.1Z" fill="#3092e6"/>
<circle cx="246.0" cy="81.9" r="1.7" fill="#3092e6"/>
<line x1="255.4" y1="69.1" x2="252.4" y2="68.8" stroke="#3092e6" stroke-width="0.8"/>
<line x1="259.6" y1="69.6" x2="257.9" y2="67.7" stroke="#3092e6" stroke-width="0.8"/>
<line x1="261.9" y1="70.8" x2="265.1" y2="70.6" stroke="#3092e6" stroke-width="0.8"/>
<line x1="264.4" y1="74.7" x2="265.7" y2="77.3" stroke="#3092e6" stroke-width="0.8"/>
<line x1="262.1" y1="76.6" x2="262.5" y2="79.8" stroke="#3092e6" stroke-width="0.8"/>
<line x1="256.2" y1="75.6" x2="252.8" y2="74.8" stroke="#3092e6" stroke-width="0.8"/>
<path d="M260.2,72.1L252.0,65.8L258.6,73.9ZM260.4,73.1L260.0,64.7L258.4,72.9ZM260.0,73.7L263.8,69.2L258.8,72.3ZM259.0,74.1L268.5,76.2L259.8,71.9ZM258.6,73.6L264.6,79.8L260.2,72.4ZM258.4,72.9L258.6,84.4L260.4,73.1ZM258.8,72.2L253.9,77.5L260.0,73.8ZM259.3,71.8L250.3,73.7L259.5,74.2Z" fill="#3092e6"/>
<circle cx="259.4" cy="73.0" r="1.5" fill="#3092e6"/>
<line x1="237.5" y1="95.0" x2="239.8" y2="99.0" stroke="#3092e6" stroke-width="0.8"/>
<line x1="232.2" y1="101.3" x2="229.6" y2="105.2" stroke="#3092e6" stroke-width="0.8"/>
<line x1="228.8" y1="101.6" x2="225.6" y2="102.6" stroke="#3092e6" stroke-width="0.8"/>
<line x1="225.0" y1="96.2" x2="222.0" y2="94.1" stroke="#3092e6" stroke-width="0.8"/>
<line x1="226.7" y1="94.5" x2="223.4" y2="97.9" stroke="#3092e6" stroke-width="0.8"/>
<line x1="227.4" y1="91.2" x2="227.0" y2="87.2" stroke="#3092e6" stroke-width="0.8"/>
<line x1="229.6" y1="88.7" x2="231.5" y2="85.1" stroke="#3092e6" stroke-width="0.8"/>
<line x1="233.8" y1="88.3" x2="231.4" y2="84.3" stroke="#3092e6" stroke-width="0.8"/>
<line x1="235.7" y1="94.3" x2="238.5" y2="95.9" stroke="#3092e6" stroke-width="0.8"/>
<path d="M231.2,95.9L243.9,95.9L231.6,92.5ZM230.5,95.1L240.8,102.9L232.3,93.3ZM229.9,94.4L233.1,109.2L232.9,94.0ZM229.8,93.6L226.4,108.4L233.0,94.8ZM230.9,92.7L218.2,98.4L231.9,95.7ZM231.3,93.0L219.7,94.9L231.5,95.4ZM232.2,93.1L222.3,87.3L230.6,95.3ZM232.9,93.7L226.5,79.5L229.9,94.7ZM232.8,94.8L236.6,81.6L230.0,93.6ZM232.2,95.1L240.3,85.5L230.6,93.3ZM231.4,95.4L239.7,94.3L231.4,93.0Z" fill="#3092e6"/>
<circle cx="231.4" cy="94.2" r="2.1" fill="#3092e6"/>
<line x1="266.0" y1="90.1" x2="268.7" y2="92.4" stroke="#3092e6" stroke-width="0.8"/>
<line x1="263.9" y1="88.5" x2="261.3" y2="88.8" stroke="#3092e6" stroke-width="0.8"/>
<line x1="262.4" y1="86.3" x2="260.9" y2="84.6" stroke="#3092e6" stroke-width="0.8"/>
<line x1="262.3" y1="84.0" x2="259.3" y2="84.3" stroke="#3092e6" stroke-width="0.8"/>
<line x1="265.2" y1="83.4" x2="266.7" y2="80.7" stroke="#3092e6" stroke-width="0.8"/>
<line x1="266.4" y1="83.3" x2="269.0" y2="81.7" stroke="#3092e6" stroke-width="0.8"/>
<line x1="269.3" y1="84.4" x2="271.6" y2="85.2" stroke="#3092e6" stroke-width="0.8"/>
<line x1="268.0" y1="87.1" x2="269.0" y2="90.6" stroke="#3092e6" stroke-width="0.8"/>
<line x1="269.8" y1="90.2" x2="272.2" y2="90.6" stroke="#3092e6" stroke-width="0.8"/>
<path d="M264.8,86.4L266.0,96.3L267.2,86.4ZM265.2,85.6L260.1,92.2L266.8,87.2ZM266.0,85.4L257.3,86.2L266.0,87.4ZM266.6,85.5L258.5,81.5L265.4,87.3ZM266.8,86.2L264.6,80.6L265.2,86.6ZM267.1,86.5L266.7,80.4L264.9,86.3ZM266.5,87.3L272.0,82.7L265.5,85.5ZM265.6,87.5L271.2,88.3L266.4,85.3ZM265.2,87.2L272.4,92.8L266.8,85.6Z" fill="#3092e6"/>
<circle cx="266.0" cy="86.4" r="1.5" fill="#3092e6"/>
<line x1="257.9" y1="105.1" x2="261.0" y2="107.1" stroke="#3092e6" stroke-width="0.8"/>
<line x1="252.9" y1="102.3" x2="252.0" y2="105.5" stroke="#3092e6" stroke-width="0.8"/>
<line x1="256.4" y1="95.2" x2="257.9" y2="92.7" stroke="#3092e6" stroke-width="0.8"/>
<line x1="263.3" y1="99.0" x2="266.4" y2="102.1" stroke="#3092e6" stroke-width="0.8"/>
<path d="M256.4,101.0L269.1,107.5L258.0,98.6ZM255.8,100.0L259.1,114.1L258.6,99.6ZM256.2,99.0L250.8,108.2L258.2,100.6ZM256.6,98.7L250.0,103.9L257.8,100.9ZM257.7,98.7L250.2,96.8L256.7,100.9ZM258.5,99.6L255.8,91.6L255.9,100.0ZM258.3,100.6L262.2,93.0L256.1,99.0ZM257.4,101.1L269.3,98.3L257.0,98.5Z" fill="#3092e6"/>
<circle cx="257.2" cy="99.8" r="1.9" fill="#3092e6"/>
<line x1="202.0" y1="98.9" x2="203.0" y2="96.8" stroke="#3092e6" stroke-width="0.8"/>
<line x1="205.1" y1="100.6" x2="208.4" y2="99.7" stroke="#3092e6" stroke-width="0.8"/>
<path d="M203.7,105.2L209.5,102.7L203.3,103.4ZM203.4,105.3L214.0,105.0L203.6,103.3ZM202.7,104.7L207.8,113.5L204.3,103.9ZM202.7,104.2L202.1,113.2L204.3,104.4ZM203.2,103.5L196.6,106.7L203.8,105.1ZM203.6,103.4L193.6,103.2L203.4,105.2ZM204.6,104.0L200.4,93.3L202.4,104.6ZM204.3,104.6L206.4,97.8L202.7,104.0Z" fill="#3092e6"/>
<circle cx="203.5" cy="104.3" r="1.5" fill="#3092e6"/>
<line x1="252.4" y1="113.3" x2="252.5" y2="109.3" stroke="#3092e6" stroke-width="0.8"/>
<line x1="255.1" y1="111.8" x2="253.3" y2="109.2" stroke="#3092e6" stroke-width="0.8"/>
<line x1="261.3" y1="111.4" x2="262.5" y2="107.2" stroke="#3092e6" stroke-width="0.8"/>
<line x1="259.9" y1="117.1" x2="262.0" y2="114.9" stroke="#3092e6" stroke-width="0.8"/>
<line x1="250.4" y1="115.2" x2="247.8" y2="116.7" stroke="#3092e6" stroke-width="0.8"/>
<path d="M255.9,115.9L250.7,111.1L254.1,117.3ZM256.1,116.6L255.3,106.0L253.9,116.6ZM255.7,117.5L265.8,107.6L254.3,115.7ZM254.9,117.9L265.3,117.6L255.1,115.3ZM254.4,117.5L264.8,123.5L255.6,115.7ZM253.8,116.4L254.0,123.5L256.2,116.8ZM254.1,115.8L250.1,122.2L255.9,117.4ZM255.0,115.3L242.7,116.9L255.0,117.9ZM255.3,115.6L245.7,113.8L254.7,117.6Z" fill="#3092e6"/>
<circle cx="255.0" cy="116.6" r="1.9" fill="#3092e6"/>
<path d="M219.5,120.6L224.8,115.1L218.5,119.4ZM219.0,120.9L225.2,120.3L219.0,119.1ZM218.4,120.7L225.2,125.6L219.6,119.3ZM218.2,119.9L217.9,125.6L219.8,120.1ZM218.6,119.3L213.3,123.4L219.4,120.7ZM219.0,119.2L214.1,120.1L219.0,120.8ZM219.5,119.4L215.4,117.0L218.5,120.6ZM219.8,120.2L220.5,114.4L218.2,119.8Z" fill="#3092e6"/>
<circle cx="219.0" cy="120.0" r="1.1" fill="#3092e6"/>
<path d="M201.7,77.0L198.7,83.1L203.1,77.8ZM202.4,76.6L198.2,77.2L202.4,78.2ZM202.9,76.8L197.3,73.6L201.9,78.0ZM203.2,77.4L202.5,72.7L201.6,77.4ZM202.8,78.1L207.9,74.6L202.0,76.7ZM202.0,78.1L207.0,80.1L202.8,76.7ZM201.6,77.6L203.8,83.6L203.2,77.2Z" fill="#3092e6"/>
<circle cx="202.4" cy="77.4" r="1.0" fill="#3092e6"/>
<line x1="303.6" y1="72.7" x2="304.8" y2="69.5" stroke="#3092e6" stroke-width="0.8"/>
<line x1="298.9" y1="79.3" x2="301.3" y2="81.3" stroke="#3092e6" stroke-width="0.8"/>
<line x1="296.2" y1="79.6" x2="293.3" y2="80.8" stroke="#3092e6" stroke-width="0.8"/>
<line x1="295.5" y1="74.2" x2="293.4" y2="76.0" stroke="#3092e6" stroke-width="0.8"/>
<line x1="297.0" y1="72.0" x2="297.4" y2="68.3" stroke="#3092e6" stroke-width="0.8"/>
<path d="M299.4,75.3L310.8,70.8L298.6,72.7ZM298.2,74.8L307.6,83.1L299.8,73.2ZM297.7,74.0L298.9,83.2L300.3,74.0ZM298.1,73.5L293.8,84.6L299.9,74.5ZM298.9,72.8L289.8,74.4L299.1,75.2ZM299.9,73.1L294.2,69.1L298.1,74.9ZM300.1,73.6L296.4,66.7L297.9,74.4ZM300.0,75.0L303.9,69.3L298.0,73.0Z" fill="#3092e6"/>
<circle cx="299.0" cy="74.0" r="1.7" fill="#3092e6"/>
<line x1="320.0" y1="63.2" x2="317.3" y2="60.4" stroke="#3092e6" stroke-width="0.8"/>
<line x1="323.1" y1="62.4" x2="326.4" y2="61.7" stroke="#3092e6" stroke-width="0.8"/>
<line x1="324.2" y1="64.6" x2="324.3" y2="60.6" stroke="#3092e6" stroke-width="0.8"/>
<line x1="316.8" y1="71.3" x2="317.3" y2="74.4" stroke="#3092e6" stroke-width="0.8"/>
<line x1="315.5" y1="69.0" x2="313.6" y2="72.0" stroke="#3092e6" stroke-width="0.8"/>
<line x1="315.2" y1="66.9" x2="311.7" y2="64.4" stroke="#3092e6" stroke-width="0.8"/>
<path d="M321.5,66.5L314.2,58.9L319.1,68.3ZM321.5,67.3L319.6,56.6L319.1,67.5ZM321.3,68.0L325.9,57.4L319.3,66.8ZM320.9,68.3L327.4,62.4L319.7,66.5ZM320.1,68.5L331.1,69.1L320.5,66.3ZM319.6,68.4L330.1,74.6L321.0,66.4ZM319.1,67.6L321.9,76.1L321.5,67.2ZM318.9,66.9L318.1,74.3L321.7,67.9ZM319.5,66.7L314.1,74.2L321.1,68.1ZM319.9,66.3L312.0,70.1L320.7,68.5ZM320.4,66.2L311.1,66.6L320.2,68.6Z" fill="#3092e6"/>
<circle cx="320.3" cy="67.4" r="1.9" fill="#3092e6"/>
<line x1="312.9" y1="93.2" x2="310.2" y2="94.6" stroke="#3092e6" stroke-width="0.8"/>
<line x1="310.1" y1="85.8" x2="308.8" y2="82.2" stroke="#3092e6" stroke-width="0.8"/>
<line x1="319.8" y1="87.3" x2="323.8" y2="88.6" stroke="#3092e6" stroke-width="0.8"/>
<line x1="317.5" y1="91.6" x2="321.1" y2="93.3" stroke="#3092e6" stroke-width="0.8"/>
<path d="M314.9,88.0L310.3,97.4L316.9,89.2ZM315.2,87.3L305.4,93.8L316.6,89.9ZM316.6,87.2L305.8,83.8L315.2,90.0ZM316.9,87.9L308.9,79.4L314.9,89.3ZM317.4,89.1L318.1,81.7L314.4,88.1ZM316.3,89.9L322.8,86.3L315.5,87.3ZM315.4,89.9L327.1,93.1L316.4,87.3ZM314.9,89.1L320.4,97.1L316.9,88.1Z" fill="#3092e6"/>
<circle cx="315.9" cy="88.6" r="1.9" fill="#3092e6"/>
<line x1="300.0" y1="92.2" x2="300.4" y2="89.5" stroke="#3092e6" stroke-width="0.8"/>
<line x1="301.5" y1="91.8" x2="304.2" y2="89.7" stroke="#3092e6" stroke-width="0.8"/>
<line x1="305.0" y1="94.7" x2="307.0" y2="93.0" stroke="#3092e6" stroke-width="0.8"/>
<line x1="303.5" y1="95.6" x2="305.8" y2="94.4" stroke="#3092e6" stroke-width="0.8"/>
<line x1="305.5" y1="100.0" x2="309.0" y2="99.7" stroke="#3092e6" stroke-width="0.8"/>
<line x1="296.8" y1="95.6" x2="295.1" y2="93.8" stroke="#3092e6" stroke-width="0.8"/>
<line x1="298.3" y1="94.2" x2="295.7" y2="94.9" stroke="#3092e6" stroke-width="0.8"/>
<path d="M302.2,94.9L298.7,88.9L300.4,95.7ZM302.4,95.4L302.0,85.4L300.2,95.2ZM302.1,95.9L308.0,86.9L300.5,94.7ZM301.5,96.3L309.3,94.0L301.1,94.3ZM301.2,96.2L307.0,96.0L301.4,94.4ZM300.7,95.9L308.8,103.6L301.9,94.7ZM300.2,95.3L301.2,106.4L302.4,95.3ZM300.5,94.7L295.7,101.8L302.1,95.9ZM301.2,94.2L290.1,96.0L301.4,96.4ZM301.6,94.5L295.7,93.3L301.0,96.1Z" fill="#3092e6"/>
<circle cx="301.3" cy="95.3" r="1.5" fill="#3092e6"/>
<line x1="277.9" y1="99.0" x2="277.3" y2="102.4" stroke="#3092e6" stroke-width="0.8"/>
<line x1="277.3" y1="94.1" x2="274.2" y2="95.0" stroke="#3092e6" stroke-width="0.8"/>
<line x1="279.3" y1="92.3" x2="279.9" y2="89.2" stroke="#3092e6" stroke-width="0.8"/>
<line x1="284.6" y1="94.0" x2="285.6" y2="90.7" stroke="#3092e6" stroke-width="0.8"/>
<line x1="284.1" y1="96.0" x2="285.7" y2="93.1" stroke="#3092e6" stroke-width="0.8"/>
<line x1="285.1" y1="99.3" x2="289.0" y2="99.6" stroke="#3092e6" stroke-width="0.8"/>
<line x1="282.8" y1="98.6" x2="285.7" y2="99.0" stroke="#3092e6" stroke-width="0.8"/>
<path d="M280.6,95.6L272.3,103.5L281.8,97.2ZM281.1,95.2L274.2,97.2L281.3,97.6ZM281.8,95.4L272.6,91.2L280.6,97.4ZM282.5,95.8L276.2,85.6L279.9,97.0ZM282.4,96.9L285.3,85.7L280.0,95.9ZM281.9,97.5L289.0,91.0L280.5,95.3ZM281.3,97.4L289.0,95.3L281.1,95.4ZM280.6,97.1L289.5,102.7L281.8,95.7ZM280.3,97.1L285.2,101.9L282.1,95.7ZM280.1,96.3L280.4,108.5L282.3,96.5Z" fill="#3092e6"/>
<circle cx="281.2" cy="96.4" r="1.7" fill="#3092e6"/>
<line x1="291.5" y1="111.4" x2="294.2" y2="113.9" stroke="#3092e6" stroke-width="0.8"/>
<line x1="291.5" y1="115.8" x2="292.4" y2="118.9" stroke="#3092e6" stroke-width="0.8"/>
<line x1="283.9" y1="118.5" x2="284.4" y2="121.4" stroke="#3092e6" stroke-width="0.8"/>
<line x1="280.4" y1="114.9" x2="277.6" y2="113.6" stroke="#3092e6" stroke-width="0.8"/>
<line x1="282.4" y1="109.0" x2="281.2" y2="105.2" stroke="#3092e6" stroke-width="0.8"/>
<line x1="288.6" y1="110.7" x2="292.6" y2="110.9" stroke="#3092e6" stroke-width="0.8"/>
<path d="M286.9,113.1L296.5,110.7L286.7,110.9ZM285.9,113.1L295.6,119.1L287.7,110.9ZM285.7,112.5L291.9,123.8L287.9,111.5ZM285.8,111.5L282.0,122.9L287.8,112.5ZM286.2,110.7L274.9,117.5L287.4,113.3ZM286.9,111.1L274.4,110.9L286.7,112.9ZM287.3,111.2L277.3,105.4L286.3,112.8ZM287.7,111.6L284.5,106.0L285.9,112.4ZM288.0,112.3L289.0,103.0L285.6,111.7ZM287.4,112.8L292.1,108.3L286.2,111.2Z" fill="#3092e6"/>
<circle cx="286.8" cy="112.0" r="1.7" fill="#3092e6"/>
<line x1="328.7" y1="93.8" x2="326.7" y2="91.2" stroke="#3092e6" stroke-width="0.8"/>
<line x1="329.7" y1="98.4" x2="330.4" y2="95.0" stroke="#3092e6" stroke-width="0.8"/>
<line x1="330.0" y1="100.4" x2="333.1" y2="98.6" stroke="#3092e6" stroke-width="0.8"/>
<line x1="328.1" y1="102.1" x2="330.5" y2="102.9" stroke="#3092e6" stroke-width="0.8"/>
<line x1="322.9" y1="101.0" x2="321.9" y2="103.7" stroke="#3092e6" stroke-width="0.8"/>
<line x1="324.3" y1="98.0" x2="320.8" y2="98.7" stroke="#3092e6" stroke-width="0.8"/>
<path d="M328.1,100.1L330.2,88.7L325.9,99.5ZM327.5,100.8L334.5,95.9L326.5,98.8ZM326.8,100.7L333.9,101.2L327.2,98.9ZM326.2,100.2L329.9,106.2L327.8,99.4ZM326.0,99.1L321.3,107.9L328.0,100.5ZM326.7,98.7L317.7,102.5L327.3,100.9ZM327.6,98.9L320.5,95.5L326.4,100.7Z" fill="#3092e6"/>
<circle cx="327.0" cy="99.8" r="1.5" fill="#3092e6"/>
<path d="M272.7,84.6L266.9,81.8L271.7,86.0ZM273.0,85.0L270.5,80.7L271.4,85.6ZM273.0,85.6L274.4,80.2L271.4,85.0ZM272.7,86.0L275.9,82.8L271.7,84.6ZM272.4,86.1L278.1,83.8L272.0,84.5ZM272.0,86.1L280.6,87.8L272.4,84.5ZM271.5,85.8L275.6,90.2L272.9,84.8ZM271.4,85.4L273.6,92.9L273.0,85.2ZM271.6,84.7L267.8,89.4L272.8,85.9ZM272.0,84.5L266.1,87.1L272.4,86.1ZM272.2,84.5L264.0,85.4L272.2,86.1Z" fill="#3092e6"/>
<circle cx="272.2" cy="85.3" r="1.1" fill="#3092e6"/>
<path d="M337.8,76.1L335.0,69.3L336.2,76.5ZM337.8,76.4L338.0,70.8L336.2,76.2ZM337.3,77.1L342.2,74.0L336.7,75.5ZM336.6,77.1L343.0,79.5L337.4,75.5ZM336.3,76.7L340.7,82.5L337.7,75.9ZM336.2,76.0L335.3,80.6L337.8,76.6ZM336.6,75.6L331.4,79.5L337.4,77.0ZM337.3,75.5L333.1,74.9L336.7,77.1Z" fill="#3092e6"/>
<circle cx="337.0" cy="76.3" r="1.1" fill="#3092e6"/>
<path d="M301.9,28.3L305.1,30.2L303.1,27.1ZM301.7,27.7L302.6,33.8L303.3,27.7ZM301.8,27.3L298.9,33.2L303.2,28.1ZM302.3,26.9L298.5,29.0L302.7,28.5ZM302.8,27.0L297.8,25.7L302.2,28.4ZM303.1,27.1L299.5,24.5L301.9,28.3ZM303.3,27.7L302.1,20.7L301.7,27.7ZM303.1,28.2L306.5,23.4L301.9,27.2ZM302.7,28.5L306.5,26.8L302.3,26.9ZM302.5,28.5L306.4,27.8L302.5,26.9Z" fill="#3092e6"/>
<circle cx="302.5" cy="27.7" r="1.0" fill="#3092e6"/>
<path d="M208.6,87.5L204.4,84.0L207.4,88.5ZM208.8,88.2L210.1,81.4L207.2,87.8ZM208.5,88.6L211.2,85.3L207.5,87.4ZM207.8,88.8L213.1,89.7L208.2,87.2ZM207.4,88.5L211.2,91.5L208.6,87.5ZM207.2,87.9L207.6,92.1L208.8,88.1ZM207.6,87.3L203.0,90.5L208.4,88.7ZM208.3,87.3L204.5,86.7L207.7,88.7Z" fill="#3092e6"/>
<circle cx="208.0" cy="88.0" r="1.0" fill="#3092e6"/>
<path d="M237.3,107.5L235.0,112.9L238.7,108.5ZM238.0,107.2L232.1,107.9L238.0,108.8ZM238.3,107.2L231.0,105.5L237.7,108.8ZM238.7,107.6L234.6,101.9L237.3,108.4ZM238.7,108.3L239.7,104.0L237.3,107.7ZM238.5,108.7L243.1,104.4L237.5,107.3ZM237.9,108.8L246.6,108.8L238.1,107.2ZM237.5,108.6L242.5,111.9L238.5,107.4ZM237.2,107.9L237.2,114.3L238.8,108.1Z" fill="#3092e6"/>
<circle cx="238.0" cy="108.0" r="1.1" fill="#3092e6"/>
<path d="M270.7,121.3L273.7,113.3L269.3,120.7ZM270.5,121.8L276.7,117.2L269.5,120.2ZM269.6,121.7L274.5,123.9L270.4,120.3ZM269.2,121.3L272.9,128.1L270.8,120.7ZM269.3,120.5L266.0,126.0L270.7,121.5ZM270.0,120.2L264.2,121.2L270.0,121.8ZM270.7,120.7L267.3,115.0L269.3,121.3Z" fill="#3092e6"/>
<circle cx="270.0" cy="121.0" r="1.1" fill="#3092e6"/>
<path d="M324.2,120.2L327.1,128.0L325.8,119.8ZM324.3,119.6L322.3,125.4L325.7,120.4ZM324.4,119.3L321.0,123.7L325.6,120.7ZM325.3,119.2L318.4,117.4L324.7,120.8ZM325.6,119.5L321.7,115.5L324.4,120.5ZM325.8,119.8L323.0,111.6L324.2,120.2ZM325.6,120.5L329.9,114.8L324.4,119.5ZM325.1,120.9L332.8,118.7L324.9,119.1ZM324.5,120.6L329.5,123.9L325.5,119.4Z" fill="#3092e6"/>
<circle cx="325.0" cy="120.0" r="1.1" fill="#3092e6"/></g>
<circle cx="245.7" cy="24.6" r="0.8" fill="#20a060" opacity="0.8"/>
<circle cx="210.2" cy="69.7" r="0.8" fill="#40b050" opacity="0.8"/>
<circle cx="282.2" cy="113.4" r="0.8" fill="#30a070" opacity="0.8"/>
<circle cx="205.3" cy="57.7" r="0.8" fill="#20a060" opacity="0.8"/>
<circle cx="233.9" cy="71.5" r="0.8" fill="#20a060" opacity="0.8"/>
<circle cx="316.6" cy="21.5" r="0.8" fill="#30a070" opacity="0.8"/>
<circle cx="288.9" cy="75.2" r="0.8" fill="#20a060" opacity="0.8"/>
<circle cx="281.4" cy="53.4" r="0.8" fill="#30a070" opacity="0.8"/>
<circle cx="206.6" cy="107.4" r="0.8" fill="#40b050" opacity="0.8"/>
<circle cx="259.1" cy="70.3" r="0.8" fill="#40b050" opacity="0.8"/>
<circle cx="279.0" cy="86.8" r="0.8" fill="#20a060" opacity="0.8"/>
<circle cx="282.0" cy="81.8" r="0.8" fill="#40b050" opacity="0.8"/>
<circle cx="213.7" cy="90.3" r="0.8" fill="#20a060" opacity="0.8"/>
<circle cx="287.3" cy="65.1" r="0.8" fill="#3060a0" opacity="0.8"/>
<circle cx="309.6" cy="61.5" r="0.8" fill="#3060a0" opacity="0.8"/>
<circle cx="251.0" cy="36.1" r="0.8" fill="#30a070" opacity="0.8"/>
<circle cx="298.6" cy="35.6" r="0.8" fill="#40b050" opacity="0.8"/>
<circle cx="274.1" cy="109.4" r="0.8" fill="#3060a0" opacity="0.8"/>
<circle cx="240.6" cy="121.7" r="0.8" fill="#20a060" opacity="0.8"/>
<circle cx="272.2" cy="26.3" r="0.8" fill="#40b050" opacity="0.8"/>
<circle cx="221.4" cy="64.2" r="0.8" fill="#20a060" opacity="0.8"/>
<circle cx="335.6" cy="16.1" r="0.8" fill="#40b050" opacity="0.8"/>
<circle cx="248.0" cy="48.0" r="0.8" fill="#3060a0" opacity="0.8"/>
<circle cx="281.8" cy="60.4" r="0.8" fill="#20a060" opacity="0.8"/>
<circle cx="333.2" cy="62.5" r="0.8" fill="#20a060" opacity="0.8"/>
<circle cx="208.6" cy="89.1" r="0.8" fill="#3060a0" opacity="0.8"/>
<circle cx="240.1" cy="52.1" r="0.8" fill="#40b050" opacity="0.8"/>
<circle cx="203.2" cy="61.0" r="0.8" fill="#30a070" opacity="0.8"/>
<circle cx="286.1" cy="64.8" r="0.8" fill="#30a070" opacity="0.8"/>
<circle cx="308.3" cy="22.1" r="0.8" fill="#30a070" opacity="0.8"/>
<circle cx="256.1" cy="114.3" r="0.8" fill="#3060a0" opacity="0.8"/>
<circle cx="211.4" cy="59.6" r="0.8" fill="#40b050" opacity="0.8"/>
<circle cx="324.6" cy="102.9" r="0.8" fill="#40b050" opacity="0.8"/>
<circle cx="299.6" cy="122.4" r="0.8" fill="#3060a0" opacity="0.8"/>
<circle cx="335.0" cy="24.7" r="0.8" fill="#30a070" opacity="0.8"/>
<circle cx="221.3" cy="84.0" r="0.8" fill="#20a060" opacity="0.8"/>
<circle cx="268.4" cy="75.9" r="0.8" fill="#40b050" opacity="0.8"/>
<circle cx="239.8" cy="24.0" r="0.8" fill="#40b050" opacity="0.8"/>
<circle cx="286.0" cy="44.3" r="0.8" fill="#30a070" opacity="0.8"/>
<circle cx="297.4" cy="67.3" r="0.8" fill="#20a060" opacity="0.8"/>
<circle cx="264.4" cy="108.9" r="0.8" fill="#3060a0" opacity="0.8"/>
<circle cx="256.1" cy="53.1" r="0.8" fill="#3060a0" opacity="0.8"/>
<circle cx="289.4" cy="14.3" r="0.8" fill="#20a060" opacity="0.8"/>
<circle cx="338.8" cy="58.6" r="0.8" fill="#20a060" opacity="0.8"/>
<circle cx="247.9" cy="13.2" r="0.8" fill="#20a060" opacity="0.8"/>
<circle cx="279.9" cy="69.8" r="0.8" fill="#40b050" opacity="0.8"/>
<circle cx="286.5" cy="15.2" r="0.8" fill="#30a070" opacity="0.8"/>
<circle cx="286.6" cy="24.4" r="0.8" fill="#40b050" opacity="0.8"/>
<circle cx="334.7" cy="77.5" r="0.8" fill="#3060a0" opacity="0.8"/>
<circle cx="217.3" cy="106.3" r="0.8" fill="#3060a0" opacity="0.8"/>
<circle cx="267.7" cy="43.5" r="0.8" fill="#30a070" opacity="0.8"/>
<circle cx="214.4" cy="47.1" r="0.8" fill="#40b050" opacity="0.8"/>
<circle cx="267.5" cy="88.0" r="0.8" fill="#20a060" opacity="0.8"/>
<circle cx="228.9" cy="118.4" r="0.8" fill="#40b050" opacity="0.8"/>
<circle cx="220.7" cy="70.6" r="0.8" fill="#20a060" opacity="0.8"/>
<circle cx="306.9" cy="41.9" r="0.8" fill="#20a060" opacity="0.8"/>
<circle cx="298.2" cy="37.6" r="0.8" fill="#40b050" opacity="0.8"/>
<circle cx="328.1" cy="48.6" r="0.8" fill="#30a070" opacity="0.8"/>
<circle cx="275.1" cy="98.1" r="0.8" fill="#40b050" opacity="0.8"/>
<circle cx="289.7" cy="78.7" r="0.8" fill="#30a070" opacity="0.8"/>
</g>
<rect x="197.6" y="4.5" width="146.1" height="122.7" fill="none" stroke="#f01c1c" stroke-width="2.7" stroke-dasharray="8,2.2" stroke-dashoffset="6.3"/>
<text x="341.3" y="19.3" font-family="Liberation Serif, serif" font-weight="bold" font-size="13.8" fill="#111" stroke="#111" stroke-width="0.25" text-anchor="end" textLength="39.2" lengthAdjust="spacingAndGlyphs">20.5%</text>
<rect x="305.8" y="116.1" width="33" height="2.9" fill="#fff"/>
<text x="308.2" y="111.2" font-family="Liberation Serif, serif" font-weight="bold" font-size="11.6" fill="#fff" textLength="31" lengthAdjust="spacingAndGlyphs">50 μm</text>
<g clip-path="url(#cb)"><g filter="url(#soft)">
<rect x="199" y="139" width="143.5" height="119.5" fill="url(#gbl)"/>
<rect x="199" y="139" width="143.5" height="119.5" fill="url(#gbl2)"/>
<polygon points="287.5,260.9 269.6,260.9 278.6,245.4" fill="#26b4f4" opacity="0.35"/>
<polygon points="255.5,228.1 241.9,224.0 252.3,214.3" fill="#26b4f4" opacity="0.35"/>
<polygon points="209.4,225.2 217.0,217.3 220.1,227.8" fill="#26b4f4" opacity="0.35"/>
<polygon points="193.0,204.9 201.4,191.2 209.0,205.3" fill="#26b4f4" opacity="0.35"/>
<polygon points="249.8,244.5 237.5,246.5 241.9,234.9" fill="#26b4f4" opacity="0.35"/>
<polygon points="259.9,226.5 274.9,230.2 264.2,241.4" fill="#26b4f4" opacity="0.35"/>
<polygon points="276.0,225.2 279.6,209.1 291.8,220.3" fill="#26b4f4" opacity="0.35"/>
<polygon points="254.1,240.8 242.2,240.6 248.3,230.4" fill="#26b4f4" opacity="0.35"/>
<polygon points="231.7,243.7 241.4,232.6 246.2,246.6" fill="#26b4f4" opacity="0.35"/>
<polygon points="251.5,212.1 250.9,201.6 260.3,206.3" fill="#26b4f4" opacity="0.35"/>
<polygon points="273.8,210.8 264.0,209.9 269.7,201.9" fill="#26b4f4" opacity="0.35"/>
<polygon points="206.0,205.0 207.1,219.6 193.9,213.3" fill="#26b4f4" opacity="0.35"/>
<polygon points="225.2,225.0 223.1,213.5 234.1,217.5" fill="#26b4f4" opacity="0.35"/>
<polygon points="271.0,234.2 259.8,232.5 266.8,223.7" fill="#26b4f4" opacity="0.35"/>
<polygon points="267.2,250.2 257.4,235.9 274.6,234.6" fill="#26b4f4" opacity="0.35"/>
<polygon points="254.0,250.9 244.4,262.2 239.4,248.3" fill="#26b4f4" opacity="0.35"/>
<polygon points="208.8,260.1 213.4,252.1 218.0,260.1" fill="#26b4f4" opacity="0.35"/>
<polygon points="210.0,245.3 197.8,255.4 195.2,239.8" fill="#26b4f4" opacity="0.35"/>
<polygon points="276.4,255.1 264.6,263.1 263.6,248.9" fill="#26b4f4" opacity="0.35"/>
<polygon points="255.6,224.7 260.7,206.6 273.9,220.1" fill="#26b4f4" opacity="0.35"/>
<polygon points="218.2,207.2 208.0,198.4 220.7,194.0" fill="#26b4f4" opacity="0.35"/>
<polygon points="284.3,259.6 273.5,258.3 280.1,249.6" fill="#26b4f4" opacity="0.35"/>
<polygon points="247.7,198.2 249.5,212.4 236.3,206.9" fill="#26b4f4" opacity="0.35"/>
<polygon points="211.0,225.5 222.6,211.7 228.7,228.7" fill="#26b4f4" opacity="0.35"/>
<polygon points="236.3,246.1 229.8,261.9 219.3,248.4" fill="#26b4f4" opacity="0.35"/>
<polygon points="262.5,213.4 262.9,229.2 249.0,221.6" fill="#26b4f4" opacity="0.35"/>
<polygon points="248.3,213.9 253.7,203.5 260.0,213.4" fill="#26b4f4" opacity="0.35"/>
<polygon points="269.2,223.3 269.8,237.7 257.1,231.0" fill="#26b4f4" opacity="0.35"/>
<polygon points="201.8,232.9 213.8,231.0 209.4,242.3" fill="#26b4f4" opacity="0.35"/>
<polygon points="280.3,216.0 261.7,216.5 270.5,200.2" fill="#26b4f4" opacity="0.35"/>
<polygon points="241.4,227.3 252.4,225.7 248.2,236.0" fill="#26b4f4" opacity="0.35"/>
<polygon points="248.8,224.0 234.6,231.7 235.0,215.6" fill="#26b4f4" opacity="0.35"/>
<polygon points="235.4,240.9 233.2,250.9 225.7,244.0" fill="#26b4f4" opacity="0.35"/>
<polygon points="210.8,240.5 217.7,232.7 221.0,242.6" fill="#26b4f4" opacity="0.35"/>
<polygon points="226.2,201.4 238.9,191.8 240.9,207.6" fill="#26b4f4" opacity="0.35"/>
<polygon points="250.0,228.1 263.5,223.1 261.2,237.3" fill="#26b4f4" opacity="0.35"/>
<polygon points="228.6,248.7 226.0,257.9 219.3,251.0" fill="#26b4f4" opacity="0.35"/>
<polygon points="268.8,218.3 282.9,227.3 268.1,235.0" fill="#26b4f4" opacity="0.35"/>
<polygon points="247.0,219.3 248.2,207.4 257.9,214.4" fill="#26b4f4" opacity="0.35"/>
<polygon points="219.6,261.0 223.7,249.5 231.6,258.8" fill="#26b4f4" opacity="0.35"/>
<path d="M258.7,238.3L251.4,238.0L252.8,233.9ZM258.7,238.3L262.7,232.0L265.5,235.3ZM258.7,238.3L262.2,244.8L257.9,245.6Z" fill="#30e6fa" opacity="0.7"/>
<path d="M235.8,183.4L238.4,188.1L235.3,188.8ZM235.8,183.4L230.3,183.3L231.3,180.2ZM235.8,183.4L238.6,178.7L240.7,181.1Z" fill="#30e6fa" opacity="0.7"/>
<path d="M236.9,241.9L243.9,244.8L241.0,248.2ZM236.9,241.9L231.0,246.5L229.4,242.3ZM236.9,241.9L236.0,234.5L240.3,235.2Z" fill="#30e6fa" opacity="0.7"/>
<path d="M264.8,167.3L258.6,172.2L257.0,167.8ZM264.8,167.3L263.7,159.6L268.3,160.3ZM264.8,167.3L272.0,170.3L269.1,173.9Z" fill="#30e6fa" opacity="0.7"/>
<path d="M320.2,181.4L323.0,190.2L317.6,190.3ZM320.2,181.4L311.1,179.5L313.8,174.8ZM320.2,181.4L326.3,174.6L329.2,179.3Z" fill="#30e6fa" opacity="0.7"/>
<path d="M337.6,219.7L337.9,214.5L340.8,215.6ZM337.6,219.7L341.9,222.6L339.5,224.5ZM337.6,219.7L332.9,222.0L332.4,219.0Z" fill="#30e6fa" opacity="0.7"/>
<path d="M238.6,191.9L240.0,186.4L242.9,188.2ZM238.6,191.9L242.7,196.0L239.7,197.6ZM238.6,191.9L233.1,193.5L233.2,190.1Z" fill="#30e6fa" opacity="0.7"/>
<path d="M212.7,230.3L207.9,225.2L211.7,223.4ZM212.7,230.3L219.5,228.8L219.1,232.9ZM212.7,230.3L210.6,237.0L207.2,234.6Z" fill="#30e6fa" opacity="0.7"/>
<path d="M241.0,163.0L233.5,157.0L238.2,153.8ZM241.0,163.0L249.9,159.5L250.4,165.1ZM241.0,163.0L239.6,172.5L234.5,170.0Z" fill="#30e6fa" opacity="0.7"/>
<path d="M223.8,254.6L230.1,261.7L224.9,264.1ZM223.8,254.6L214.4,256.5L215.0,250.8ZM223.8,254.6L226.8,245.5L231.4,248.8Z" fill="#30e6fa" opacity="0.7"/>
<path d="M202.7,217.3L200.4,212.1L203.7,211.7ZM202.7,217.3L208.3,217.9L207.0,221.0ZM202.7,217.3L199.3,221.9L197.3,219.2Z" fill="#30e6fa" opacity="0.7"/>
<path d="M265.6,227.3L264.3,219.6L268.9,220.2ZM265.6,227.3L273.0,230.0L270.2,233.7ZM265.6,227.3L259.6,232.3L257.8,228.1Z" fill="#30e6fa" opacity="0.7"/>
<path d="M315.0,216.5L313.6,224.3L309.4,222.1ZM315.0,216.5L309.0,211.3L312.9,208.8ZM315.0,216.5L322.5,213.8L322.7,218.5Z" fill="#30e6fa" opacity="0.7"/>
<path d="M218.8,164.4L223.8,172.2L218.5,173.7ZM218.8,164.4L209.5,164.9L210.8,159.6ZM218.8,164.4L223.0,156.2L226.9,160.0Z" fill="#30e6fa" opacity="0.7"/>
<path d="M259.7,187.3L251.7,188.0L252.6,183.4ZM259.7,187.3L263.1,180.0L266.7,183.2ZM259.7,187.3L264.4,193.9L259.8,195.4Z" fill="#30e6fa" opacity="0.7"/>
<path d="M320.3,199.5L314.8,195.4L318.1,193.0ZM320.3,199.5L326.5,196.8L326.9,200.8ZM320.3,199.5L319.4,206.2L315.7,204.6Z" fill="#30e6fa" opacity="0.7"/>
<path d="M304.3,249.4L307.7,243.8L310.3,246.8ZM304.3,249.4L307.4,255.2L303.6,255.9ZM304.3,249.4L297.7,249.2L299.0,245.5Z" fill="#30e6fa" opacity="0.7"/>
<path d="M337.4,255.2L334.6,260.1L332.3,257.7ZM337.4,255.2L334.5,250.3L337.8,249.6ZM337.4,255.2L343.0,255.2L342.1,258.4Z" fill="#30e6fa" opacity="0.7"/>
<path d="M308.4,239.8L305.4,244.0L303.5,241.6ZM308.4,239.8L306.2,235.1L309.2,234.6ZM308.4,239.8L313.5,240.2L312.4,243.1Z" fill="#30e6fa" opacity="0.7"/>
<path d="M301.4,232.3L305.4,238.9L301.0,240.0ZM301.4,232.3L293.7,232.5L294.9,228.2ZM301.4,232.3L305.1,225.6L308.2,228.9Z" fill="#30e6fa" opacity="0.7"/>
<path d="M257.0,161.0L252.2,165.5L250.5,162.0ZM257.0,161.0L255.4,154.6L259.3,154.8ZM257.0,161.0L263.3,162.9L261.1,166.1Z" fill="#30e6fa" opacity="0.7"/>
<path d="M315.2,215.1L317.5,221.8L313.3,221.9ZM315.2,215.1L308.3,213.7L310.3,210.0ZM315.2,215.1L319.9,209.8L322.1,213.4Z" fill="#30e6fa" opacity="0.7"/>
<path d="M244.1,223.4L249.2,228.5L245.5,230.5ZM244.1,223.4L237.2,225.3L237.3,221.0ZM244.1,223.4L246.0,216.4L249.6,218.7Z" fill="#30e6fa" opacity="0.7"/>
<path d="M315.0,213.7L305.2,214.4L306.5,208.8ZM315.0,213.7L319.3,204.9L323.6,208.8ZM315.0,213.7L320.6,221.9L315.0,223.6Z" fill="#30e6fa" opacity="0.7"/>
<path d="M287.2,198.6L292.8,192.8L295.1,196.9ZM287.2,198.6L289.5,206.3L284.7,206.3ZM287.2,198.6L279.4,196.7L281.8,192.6Z" fill="#30e6fa" opacity="0.7"/>
<path d="M337.4,222.4L344.5,223.1L342.9,227.0ZM337.4,222.4L333.2,228.2L330.7,224.9ZM337.4,222.4L334.4,215.9L338.6,215.4Z" fill="#30e6fa" opacity="0.7"/>
<path d="M317.6,194.9L324.5,195.3L323.1,199.2ZM317.6,194.9L313.8,200.7L311.2,197.5ZM317.6,194.9L314.5,188.7L318.6,188.1Z" fill="#30e6fa" opacity="0.7"/>
<path d="M204.8,194.8L201.3,185.6L207.1,185.2ZM204.8,194.8L214.5,196.5L211.9,201.7ZM204.8,194.8L198.5,202.5L195.3,197.6Z" fill="#30e6fa" opacity="0.7"/>
<path d="M299.2,223.2L303.8,227.6L300.6,229.4ZM299.2,223.2L293.1,225.0L293.2,221.2ZM299.2,223.2L300.7,217.0L304.0,218.9Z" fill="#30e6fa" opacity="0.7"/>
<path d="M284.3,161.5L276.6,163.1L277.0,158.5ZM284.3,161.5L286.8,153.9L290.6,156.6ZM284.3,161.5L289.6,167.4L285.4,169.4Z" fill="#30e6fa" opacity="0.7"/>
<path d="M209.6,137.9Q215.3,138.4 221.0,137.9Q217.4,141.4 214.9,145.5Q212.8,141.4 209.6,137.9Z" fill="#2cc4f4" opacity="0.45"/>
<path d="M216.7,148.7Q228.2,149.7 239.4,148.7Q233.5,155.8 230.0,163.9Q224.4,155.8 216.7,148.7Z" fill="#2cc4f4" opacity="0.45"/>
<path d="M202.3,170.5Q209.9,169.5 217.5,170.5Q212.7,163.4 209.3,155.2Q206.6,163.4 202.3,170.5Z" fill="#2cc4f4" opacity="0.45"/>
<path d="M230.8,157.1Q240.2,159.2 249.7,159.5Q243.9,165.3 239.9,172.3Q236.3,164.3 230.8,157.1Z" fill="#2cc4f4" opacity="0.45"/>
<path d="M249.7,152.0Q246.1,162.1 240.3,171.0Q250.6,169.8 261.1,171.0Q254.4,162.1 249.7,152.0Z" fill="#2cc4f4" opacity="0.45"/>
<path d="M231.1,166.2Q228.4,174.2 224.3,181.2Q231.0,180.2 237.6,181.2Q233.7,174.2 231.1,166.2Z" fill="#2cc4f4" opacity="0.45"/>
<path d="M204.7,167.2Q203.8,182.2 199.0,195.7Q214.4,192.0 231.3,191.9Q216.8,180.6 204.7,167.2Z" fill="#2cc4f4" opacity="0.45"/>
<path d="M230.2,181.9Q246.2,184.2 262.4,184.6Q252.5,190.3 245.9,197.2Q239.6,189.2 230.2,181.9Z" fill="#2cc4f4" opacity="0.45"/>
<path d="M225.8,187.2Q231.0,188.1 236.2,187.2Q233.1,193.0 231.0,199.5Q228.9,193.0 225.8,187.2Z" fill="#2cc4f4" opacity="0.45"/>
<path d="M268.4,148.8Q273.7,153.1 279.8,155.8Q273.7,159.2 268.4,164.0Q269.1,156.4 268.4,148.8Z" fill="#2cc4f4" opacity="0.45"/>
<path d="M267.5,160.7Q284.4,162.7 301.8,160.7Q289.7,174.9 280.8,191.1Q276.0,174.9 267.5,160.7Z" fill="#2cc4f4" opacity="0.45"/>
<path d="M307.3,161.9Q316.7,163.6 326.2,163.6Q320.0,168.8 315.7,175.0Q312.5,168.1 307.3,161.9Z" fill="#2cc4f4" opacity="0.45"/>
<path d="M300.4,174.8Q310.7,176.6 321.2,176.6Q314.4,181.9 309.7,188.1Q306.1,181.2 300.4,174.8Z" fill="#2cc4f4" opacity="0.45"/>
<path d="M316.3,170.4Q325.5,173.5 335.0,174.4Q328.3,181.2 323.3,189.5Q320.8,179.6 316.3,170.4Z" fill="#2cc4f4" opacity="0.45"/>
<path d="M327.4,171.4Q335.1,172.7 342.7,172.0Q338.1,178.8 335.0,186.7Q332.0,178.6 327.4,171.4Z" fill="#2cc4f4" opacity="0.45"/>
<path d="M266.8,180.5Q277.4,192.0 289.5,202.1Q277.4,200.6 266.8,202.1Q268.3,192.0 266.8,180.5Z" fill="#2cc4f4" opacity="0.45"/>
<path d="M200.7,196.2Q208.2,198.9 216.2,199.4Q210.0,205.9 205.0,213.9Q203.7,204.7 200.7,196.2Z" fill="#2cc4f4" opacity="0.45"/>
<path d="M212.9,211.9Q222.5,214.0 232.3,213.8Q226.1,221.8 221.8,231.3Q218.3,221.0 212.9,211.9Z" fill="#2cc4f4" opacity="0.45"/>
<path d="M196.2,216.6Q205.3,223.4 215.8,227.8Q205.3,232.8 196.2,240.1Q197.5,228.3 196.2,216.6Z" fill="#2cc4f4" opacity="0.45"/>
<path d="M220.9,231.4Q232.6,233.8 244.5,233.1Q237.0,243.2 231.7,255.0Q227.5,242.5 220.9,231.4Z" fill="#2cc4f4" opacity="0.45"/>
<path d="M239.0,221.6Q250.6,225.0 262.6,225.1Q254.4,236.0 248.3,249.0Q244.9,234.6 239.0,221.6Z" fill="#2cc4f4" opacity="0.45"/>
<path d="M252.3,224.5Q264.2,227.5 276.4,227.5Q268.3,236.9 262.4,248.0Q258.6,235.7 252.3,224.5Z" fill="#2cc4f4" opacity="0.45"/>
<path d="M202.6,235.8Q216.0,238.6 229.9,238.4Q220.2,248.0 213.1,259.4Q209.3,246.9 202.6,235.8Z" fill="#2cc4f4" opacity="0.45"/>
<path d="M247.8,194.5Q259.4,196.4 271.1,196.2Q263.8,202.7 258.8,210.2Q254.5,202.0 247.8,194.5Z" fill="#2cc4f4" opacity="0.45"/>
<path d="M289.3,199.2Q297.0,200.6 304.9,200.0Q299.5,206.8 295.6,214.7Q293.3,206.5 289.3,199.2Z" fill="#2cc4f4" opacity="0.45"/>
<path d="M284.9,213.3Q296.8,214.1 308.7,213.3Q301.7,218.7 297.1,224.9Q292.2,218.7 284.9,213.3Z" fill="#2cc4f4" opacity="0.45"/>
<path d="M299.5,207.4Q309.2,209.2 318.9,208.5Q313.0,217.1 308.9,227.0Q305.2,216.7 299.5,207.4Z" fill="#2cc4f4" opacity="0.45"/>
<path d="M317.3,213.9Q327.1,216.1 336.8,215.7Q330.9,224.0 327.0,233.7Q323.1,223.3 317.3,213.9Z" fill="#2cc4f4" opacity="0.45"/>
<path d="M329.3,210.4Q337.1,211.7 345.0,210.9Q340.2,217.9 336.9,226.0Q333.9,217.7 329.3,210.4Z" fill="#2cc4f4" opacity="0.45"/>
<path d="M272.6,225.3Q282.3,227.2 292.2,226.6Q286.1,235.0 281.9,244.9Q278.2,234.6 272.6,225.3Z" fill="#2cc4f4" opacity="0.45"/>
<path d="M266.8,212.5Q274.6,214.4 282.5,214.2Q277.4,220.7 273.8,228.2Q271.1,220.0 266.8,212.5Z" fill="#2cc4f4" opacity="0.45"/>
<path d="M288.2,224.8Q298.0,226.9 307.8,226.0Q301.9,236.3 298.0,248.2Q294.1,235.8 288.2,224.8Z" fill="#2cc4f4" opacity="0.45"/>
<path d="M269.8,238.0Q281.4,240.6 293.2,240.3Q285.2,250.1 279.4,261.6Q275.8,249.2 269.8,238.0Z" fill="#2cc4f4" opacity="0.45"/>
<path d="M291.9,240.9Q303.6,243.1 315.5,242.7Q308.0,250.9 302.7,260.5Q298.5,250.2 291.9,240.9Z" fill="#2cc4f4" opacity="0.45"/>
<path d="M252.0,139.2Q259.0,140.1 266.0,139.2Q261.8,145.0 259.0,151.5Q256.2,145.0 252.0,139.2Z" fill="#2cc4f4" opacity="0.45"/>
<path d="M297.8,144.8Q303.0,145.3 308.2,144.8Q305.1,148.8 303.0,153.5Q300.9,148.8 297.8,144.8Z" fill="#2cc4f4" opacity="0.45"/>
<path d="M211.4,138.7Q215.2,139.3 219.2,138.7Q216.4,141.0 215.0,143.9Q213.9,141.0 211.4,138.7Z" fill="#2c9cf0"/>
<path d="M220.4,150.3Q228.4,151.6 236.0,150.3Q231.3,154.9 229.5,160.8Q226.3,154.9 220.4,150.3Z" fill="#2c9cf0"/>
<path d="M204.7,168.9Q209.8,167.6 215.1,168.9Q211.4,164.3 209.5,158.4Q208.0,164.3 204.7,168.9Z" fill="#2c9cf0"/>
<path d="M233.7,158.9Q240.2,160.9 246.7,160.6Q242.2,164.3 240.0,169.4Q238.0,163.7 233.7,158.9Z" fill="#2c9cf0"/>
<path d="M249.9,155.9Q248.0,163.3 243.4,169.0Q250.5,167.5 257.7,169.0Q252.6,163.3 249.9,155.9Z" fill="#2c9cf0"/>
<path d="M231.1,169.4Q229.6,175.1 226.4,179.7Q231.0,178.4 235.6,179.7Q232.5,175.1 231.1,169.4Z" fill="#2c9cf0"/>
<path d="M206.9,172.8Q207.4,183.4 202.9,192.3Q213.2,188.8 225.1,189.7Q214.5,182.6 206.9,172.8Z" fill="#2c9cf0"/>
<path d="M235.2,183.8Q246.2,185.9 257.3,185.6Q249.6,189.2 246.0,194.3Q242.6,188.6 235.2,183.8Z" fill="#2c9cf0"/>
<path d="M227.4,188.5Q231.0,189.5 234.6,188.5Q232.2,192.2 231.0,196.9Q229.8,192.2 227.4,188.5Z" fill="#2c9cf0"/>
<path d="M269.6,151.2Q273.0,154.5 277.4,156.0Q273.0,157.9 269.6,161.6Q270.5,156.3 269.6,151.2Z" fill="#2c9cf0"/>
<path d="M272.5,163.8Q283.9,166.3 296.0,163.8Q286.8,173.0 281.6,184.7Q279.3,173.0 272.5,163.8Z" fill="#2c9cf0"/>
<path d="M310.2,163.4Q316.6,165.0 323.1,164.6Q318.4,167.9 315.9,172.4Q314.2,167.5 310.2,163.4Z" fill="#2c9cf0"/>
<path d="M303.6,176.4Q310.6,178.0 317.8,177.6Q312.6,181.0 309.9,185.5Q308.1,180.6 303.6,176.4Z" fill="#2c9cf0"/>
<path d="M319.0,172.8Q325.2,175.6 331.9,175.6Q326.8,179.8 323.8,185.9Q322.7,178.9 319.0,172.8Z" fill="#2c9cf0"/>
<path d="M329.8,173.1Q335.0,174.5 340.3,173.5Q336.7,177.9 335.0,183.5Q333.4,177.7 329.8,173.1Z" fill="#2c9cf0"/>
<path d="M269.1,185.1Q276.0,193.3 284.7,199.8Q276.0,198.0 269.1,199.8Q271.0,193.3 269.1,185.1Z" fill="#2c9cf0"/>
<path d="M202.7,198.4Q207.8,200.8 213.4,200.6Q208.8,204.7 205.7,210.5Q205.3,204.0 202.7,198.4Z" fill="#2c9cf0"/>
<path d="M215.8,214.1Q222.4,216.3 229.1,215.4Q224.4,220.5 221.9,227.4Q220.1,220.1 215.8,214.1Z" fill="#2c9cf0"/>
<path d="M198.3,220.3Q204.2,225.6 211.7,228.0Q204.2,230.7 198.3,236.4Q199.9,228.3 198.3,220.3Z" fill="#2c9cf0"/>
<path d="M224.5,234.0Q232.5,236.5 240.7,235.2Q234.9,241.7 231.9,250.2Q229.7,241.3 224.5,234.0Z" fill="#2c9cf0"/>
<path d="M242.4,224.8Q250.3,228.1 258.6,227.2Q252.4,234.2 248.8,243.7Q247.2,233.4 242.4,224.8Z" fill="#2c9cf0"/>
<path d="M255.9,227.3Q264.0,230.1 272.5,229.3Q266.2,235.3 262.9,243.4Q260.9,234.6 255.9,227.3Z" fill="#2c9cf0"/>
<path d="M206.6,238.5Q215.7,241.2 225.3,240.3Q218.0,246.4 213.8,254.7Q212.0,245.8 206.6,238.5Z" fill="#2c9cf0"/>
<path d="M251.4,196.3Q259.3,198.2 267.4,197.5Q261.7,201.6 259.0,207.1Q256.6,201.2 251.4,196.3Z" fill="#2c9cf0"/>
<path d="M291.6,200.9Q296.8,202.4 302.2,201.5Q298.2,205.8 295.9,211.6Q294.7,205.6 291.6,200.9Z" fill="#2c9cf0"/>
<path d="M288.6,214.6Q296.8,215.5 304.9,214.6Q299.5,218.0 297.0,222.5Q294.3,218.0 288.6,214.6Z" fill="#2c9cf0"/>
<path d="M302.5,209.6Q309.1,211.5 315.8,210.3Q311.2,215.8 309.0,223.1Q306.9,215.6 302.5,209.6Z" fill="#2c9cf0"/>
<path d="M320.4,216.2Q327.0,218.3 333.7,217.4Q329.2,222.7 327.0,229.7Q324.9,222.3 320.4,216.2Z" fill="#2c9cf0"/>
<path d="M331.7,212.1Q337.1,213.5 342.5,212.4Q338.8,216.9 337.0,222.8Q335.3,216.8 331.7,212.1Z" fill="#2c9cf0"/>
<path d="M275.6,227.5Q282.3,229.5 289.0,228.3Q284.3,233.8 282.0,240.9Q280.0,233.5 275.6,227.5Z" fill="#2c9cf0"/>
<path d="M269.1,214.3Q274.5,216.2 279.9,215.5Q276.0,219.6 273.9,225.1Q272.5,219.2 269.1,214.3Z" fill="#2c9cf0"/>
<path d="M291.3,227.4Q298.0,229.7 304.7,228.2Q300.2,234.8 298.0,243.4Q295.8,234.5 291.3,227.4Z" fill="#2c9cf0"/>
<path d="M273.2,240.7Q281.1,243.3 289.3,242.3Q283.2,248.5 279.8,256.9Q278.1,248.0 273.2,240.7Z" fill="#2c9cf0"/>
<path d="M295.5,243.2Q303.5,245.3 311.7,244.4Q305.9,249.6 302.9,256.6Q300.7,249.2 295.5,243.2Z" fill="#2c9cf0"/>
<path d="M254.2,140.5Q259.0,141.5 263.8,140.5Q260.5,144.2 259.0,148.9Q257.5,144.2 254.2,140.5Z" fill="#2c9cf0"/>
<path d="M299.4,145.7Q303.0,146.4 306.6,145.7Q304.2,148.3 303.0,151.7Q301.8,148.3 299.4,145.7Z" fill="#2c9cf0"/>
<path d="M259.5,215.2Q262.8,213.3 265.1,210.2Q265.1,214.0 266.7,217.5Q263.4,215.6 259.5,215.2Z" fill="#28a8f6" opacity="0.85"/>
<path d="M268.7,216.8Q271.2,216.1 273.2,214.6Q272.5,217.0 272.9,219.6Q271.1,217.7 268.7,216.8Z" fill="#28a8f6" opacity="0.85"/>
<path d="M287.9,239.5Q288.0,237.1 287.1,234.9Q289.1,236.1 291.5,236.4Q289.4,237.6 287.9,239.5Z" fill="#28a8f6" opacity="0.85"/>
<path d="M216.5,239.5Q213.1,239.7 210.0,241.3Q211.6,238.2 211.8,234.8Q213.7,237.7 216.5,239.5Z" fill="#28a8f6" opacity="0.85"/>
<path d="M335.6,251.1Q338.7,252.4 342.1,252.4Q339.4,254.4 337.7,257.3Q337.3,254.0 335.6,251.1Z" fill="#28a8f6" opacity="0.85"/>
<path d="M225.5,162.8Q222.4,162.6 219.4,163.7Q221.1,161.0 221.7,157.9Q223.1,160.7 225.5,162.8Z" fill="#28a8f6" opacity="0.85"/>
<path d="M224.3,184.0Q226.3,182.9 227.6,181.0Q227.6,183.3 228.6,185.3Q226.6,184.3 224.3,184.0Z" fill="#28a8f6" opacity="0.85"/>
<path d="M259.9,239.0Q262.5,240.7 265.6,241.1Q262.8,242.6 260.9,245.0Q261.0,241.9 259.9,239.0Z" fill="#28a8f6" opacity="0.85"/>
<path d="M269.9,227.6Q269.4,224.6 267.9,222.1Q270.7,223.2 273.7,223.1Q271.3,225.0 269.9,227.6Z" fill="#28a8f6" opacity="0.85"/>
<path d="M339.6,252.5Q341.6,255.6 344.7,257.7Q341.0,257.9 337.7,259.5Q339.4,256.2 339.6,252.5Z" fill="#28a8f6" opacity="0.85"/>
<path d="M247.2,183.6Q244.5,183.3 241.9,184.0Q243.6,181.9 244.2,179.2Q245.3,181.7 247.2,183.6Z" fill="#28a8f6" opacity="0.85"/>
<path d="M304.9,201.6Q306.8,198.4 307.3,194.7Q309.1,198.0 312.0,200.2Q308.3,200.2 304.9,201.6Z" fill="#28a8f6" opacity="0.85"/>
<path d="M335.7,244.6Q334.5,242.8 332.7,241.5Q334.9,241.4 336.9,240.4Q335.9,242.4 335.7,244.6Z" fill="#28a8f6" opacity="0.85"/>
<path d="M324.8,208.3Q327.0,205.0 327.8,201.2Q329.5,204.7 332.5,207.3Q328.5,207.0 324.8,208.3Z" fill="#28a8f6" opacity="0.85"/>
<path d="M209.8,225.1Q209.1,221.6 207.1,218.6Q210.5,219.8 214.0,219.5Q211.3,221.8 209.8,225.1Z" fill="#28a8f6" opacity="0.85"/>
<path d="M212.5,187.8Q213.5,191.6 216.0,194.7Q212.2,193.7 208.3,194.3Q211.1,191.5 212.5,187.8Z" fill="#28a8f6" opacity="0.85"/>
<path d="M219.1,184.9Q216.8,184.8 214.5,185.6Q215.8,183.6 216.2,181.2Q217.3,183.4 219.1,184.9Z" fill="#28a8f6" opacity="0.85"/>
<path d="M309.0,178.4Q311.5,176.5 313.1,173.7Q313.5,176.9 315.1,179.6Q312.2,178.4 309.0,178.4Z" fill="#28a8f6" opacity="0.85"/>
<circle cx="313.7" cy="235.7" r="0.6" fill="#2a8a70" opacity="0.7"/>
<circle cx="304.3" cy="166.5" r="0.6" fill="#2a8a70" opacity="0.7"/>
<circle cx="273.0" cy="181.6" r="0.6" fill="#2a8a70" opacity="0.7"/>
<circle cx="204.1" cy="143.3" r="0.6" fill="#2a8a70" opacity="0.7"/>
<circle cx="239.4" cy="170.3" r="0.6" fill="#2a8a70" opacity="0.7"/>
<circle cx="297.6" cy="251.9" r="0.6" fill="#2a8a70" opacity="0.7"/>
<circle cx="263.1" cy="249.6" r="0.6" fill="#2a8a70" opacity="0.7"/>
<circle cx="339.3" cy="251.7" r="0.6" fill="#2a8a70" opacity="0.7"/>
<circle cx="251.4" cy="165.8" r="0.6" fill="#2a8a70" opacity="0.7"/>
<circle cx="232.0" cy="163.0" r="0.6" fill="#2a8a70" opacity="0.7"/>
<circle cx="228.8" cy="213.0" r="0.6" fill="#2a8a70" opacity="0.7"/>
<circle cx="326.9" cy="238.3" r="0.6" fill="#2a8a70" opacity="0.7"/>
<circle cx="267.6" cy="216.4" r="0.6" fill="#2a8a70" opacity="0.7"/>
<circle cx="312.7" cy="149.9" r="0.6" fill="#2a8a70" opacity="0.7"/>
<circle cx="293.1" cy="246.4" r="0.6" fill="#2a8a70" opacity="0.7"/>
<circle cx="310.3" cy="227.8" r="0.6" fill="#2a8a70" opacity="0.7"/>
<circle cx="267.4" cy="160.9" r="0.6" fill="#2a8a70" opacity="0.7"/>
<circle cx="311.3" cy="178.9" r="0.6" fill="#2a8a70" opacity="0.7"/>
<circle cx="312.9" cy="253.7" r="0.6" fill="#2a8a70" opacity="0.7"/>
<circle cx="255.8" cy="187.0" r="0.6" fill="#2a8a70" opacity="0.7"/>
<circle cx="333.5" cy="224.8" r="0.6" fill="#2a8a70" opacity="0.7"/>
<circle cx="224.0" cy="154.9" r="0.6" fill="#2a8a70" opacity="0.7"/>
<circle cx="221.3" cy="245.9" r="0.6" fill="#2a8a70" opacity="0.7"/>
<circle cx="313.7" cy="157.1" r="0.6" fill="#2a8a70" opacity="0.7"/>
<circle cx="316.5" cy="254.7" r="0.6" fill="#2a8a70" opacity="0.7"/>
<circle cx="292.7" cy="181.0" r="0.6" fill="#2a8a70" opacity="0.7"/>
<circle cx="277.4" cy="155.3" r="0.6" fill="#2a8a70" opacity="0.7"/>
<circle cx="202.0" cy="253.6" r="0.6" fill="#2a8a70" opacity="0.7"/>
<circle cx="291.6" cy="201.6" r="0.6" fill="#2a8a70" opacity="0.7"/>
<circle cx="331.6" cy="190.8" r="0.6" fill="#2a8a70" opacity="0.7"/>
<circle cx="322.9" cy="236.7" r="0.6" fill="#2a8a70" opacity="0.7"/>
<circle cx="229.8" cy="169.5" r="0.6" fill="#2a8a70" opacity="0.7"/>
<circle cx="241.3" cy="168.1" r="0.6" fill="#2a8a70" opacity="0.7"/>
<circle cx="282.7" cy="170.3" r="0.6" fill="#2a8a70" opacity="0.7"/>
<circle cx="259.1" cy="155.3" r="0.6" fill="#2a8a70" opacity="0.7"/>
<circle cx="328.3" cy="181.4" r="0.6" fill="#2a8a70" opacity="0.7"/>
<circle cx="264.6" cy="208.3" r="0.6" fill="#2a8a70" opacity="0.7"/>
<circle cx="327.5" cy="189.2" r="0.6" fill="#2a8a70" opacity="0.7"/>
<circle cx="329.4" cy="198.7" r="0.6" fill="#2a8a70" opacity="0.7"/>
<circle cx="275.0" cy="201.3" r="0.6" fill="#2a8a70" opacity="0.7"/>
<circle cx="330" cy="199" r="1.6" fill="#a0c040"/>
</g></g>
<rect x="197.9" y="137" width="146.5" height="122.8" fill="none" stroke="#2030c4" stroke-width="2.5" stroke-dasharray="6.8,2.7" stroke-dashoffset="5.9"/>
<text x="341.3" y="151.3" font-family="Liberation Serif, serif" font-weight="bold" font-size="13.8" fill="#111" stroke="#111" stroke-width="0.25" text-anchor="end" textLength="39.2" lengthAdjust="spacingAndGlyphs">22.7%</text>
<rect x="307.6" y="248.3" width="32.2" height="3.2" fill="#fff"/>
<text x="308.2" y="243.2" font-family="Liberation Serif, serif" font-weight="bold" font-size="11.6" fill="#fff" textLength="32" lengthAdjust="spacingAndGlyphs">50 μm</text>
<text x="361" y="17.9" font-family="Liberation Serif, serif" font-weight="bold" font-size="19" fill="#000">c</text>
<rect x="395" y="3.6" width="148.6" height="110" fill="none" stroke="#2a2a2a" stroke-width="1.4"/>
<line x1="395" y1="9.2" x2="397.5" y2="9.2" stroke="#2a2a2a" stroke-width="1"/>
<text x="392.3" y="11.6" font-family="Liberation Serif, serif" font-size="7" fill="#333" text-anchor="end">0</text>
<line x1="395" y1="30.1" x2="397.5" y2="30.1" stroke="#2a2a2a" stroke-width="1"/>
<text x="392.3" y="32.5" font-family="Liberation Serif, serif" font-size="7" fill="#333" text-anchor="end">-2</text>
<line x1="395" y1="50.9" x2="397.5" y2="50.9" stroke="#2a2a2a" stroke-width="1"/>
<text x="392.3" y="53.3" font-family="Liberation Serif, serif" font-size="7" fill="#333" text-anchor="end">-4</text>
<line x1="395" y1="71.8" x2="397.5" y2="71.8" stroke="#2a2a2a" stroke-width="1"/>
<text x="392.3" y="74.2" font-family="Liberation Serif, serif" font-size="7" fill="#333" text-anchor="end">-6</text>
<line x1="395" y1="92.6" x2="397.5" y2="92.6" stroke="#2a2a2a" stroke-width="1"/>
<text x="392.3" y="95.0" font-family="Liberation Serif, serif" font-size="7" fill="#333" text-anchor="end">-8</text>
<line x1="395" y1="113.5" x2="397.5" y2="113.5" stroke="#2a2a2a" stroke-width="1"/>
<text x="392.3" y="115.9" font-family="Liberation Serif, serif" font-size="7" fill="#333" text-anchor="end">-10</text>
<line x1="395.0" y1="113.6" x2="395.0" y2="111" stroke="#2a2a2a" stroke-width="1"/>
<text x="395.0" y="121.6" font-family="Liberation Serif, serif" font-size="7" fill="#333" text-anchor="middle">-0.6</text>
<line x1="416.2" y1="113.6" x2="416.2" y2="111" stroke="#2a2a2a" stroke-width="1"/>
<text x="416.2" y="121.6" font-family="Liberation Serif, serif" font-size="7" fill="#333" text-anchor="middle">-0.5</text>
<line x1="437.4" y1="113.6" x2="437.4" y2="111" stroke="#2a2a2a" stroke-width="1"/>
<text x="437.4" y="121.6" font-family="Liberation Serif, serif" font-size="7" fill="#333" text-anchor="middle">-0.4</text>
<line x1="458.6" y1="113.6" x2="458.6" y2="111" stroke="#2a2a2a" stroke-width="1"/>
<text x="458.6" y="121.6" font-family="Liberation Serif, serif" font-size="7" fill="#333" text-anchor="middle">-0.3</text>
<line x1="479.8" y1="113.6" x2="479.8" y2="111" stroke="#2a2a2a" stroke-width="1"/>
<text x="479.8" y="121.6" font-family="Liberation Serif, serif" font-size="7" fill="#333" text-anchor="middle">-0.2</text>
<line x1="501.0" y1="113.6" x2="501.0" y2="111" stroke="#2a2a2a" stroke-width="1"/>
<text x="501.0" y="121.6" font-family="Liberation Serif, serif" font-size="7" fill="#333" text-anchor="middle">-0.1</text>
<line x1="522.2" y1="113.6" x2="522.2" y2="111" stroke="#2a2a2a" stroke-width="1"/>
<text x="522.2" y="121.6" font-family="Liberation Serif, serif" font-size="7" fill="#333" text-anchor="middle">0.0</text>
<line x1="543.4" y1="113.6" x2="543.4" y2="111" stroke="#2a2a2a" stroke-width="1"/>
<text x="543.4" y="121.6" font-family="Liberation Serif, serif" font-size="7" fill="#333" text-anchor="middle">0.1</text>
<text transform="translate(382.6,109) rotate(-90)" font-family="Liberation Serif, serif" font-size="8.8" fill="#222" textLength="93" lengthAdjust="spacingAndGlyphs">Current density (mA/cm<tspan font-size="5.5" dy="-3">2</tspan><tspan dy="3">)</tspan></text>
<path d="M395.5,9.8 C396,10.8 397,10.6 399,9.8 C410,9.3 430,9.2 543,9.2" fill="none" stroke="#000" stroke-width="1.7"/>
<path d="M399.70,113.50C399.85,109.58 400.23,98.92 400.60,90.00C400.97,81.08 401.13,67.77 401.90,60.00C402.67,52.23 403.75,48.70 405.20,43.40C406.65,38.10 408.43,32.37 410.60,28.20C412.77,24.03 415.13,20.93 418.20,18.40C421.27,15.87 424.67,14.33 429.00,13.00C433.33,11.67 438.40,11.02 444.20,10.40C450.00,9.78 456.17,9.52 463.80,9.30C471.43,9.08 476.80,9.13 490.00,9.10C503.20,9.07 534.17,9.10 543.00,9.10" fill="none" stroke="#2020f0" stroke-width="1.7"/>
<path d="M406.60,113.50C407.57,107.92 410.83,88.92 412.40,80.00C413.97,71.08 414.67,65.75 416.00,60.00C417.33,54.25 418.58,50.08 420.40,45.50C422.22,40.92 424.37,36.28 426.90,32.50C429.43,28.72 432.35,25.50 435.60,22.80C438.85,20.10 442.43,18.12 446.40,16.30C450.37,14.48 455.47,12.97 459.40,11.90C463.33,10.83 464.90,10.35 470.00,9.90C475.10,9.45 477.83,9.33 490.00,9.20C502.17,9.07 534.17,9.12 543.00,9.10" fill="none" stroke="#109a98" stroke-width="1.7"/>
<path d="M469.00,113.50C470.83,109.08 476.22,95.92 480.00,87.00C483.78,78.08 488.37,67.75 491.70,60.00C495.03,52.25 497.33,45.80 500.00,40.50C502.67,35.20 504.78,32.05 507.70,28.20C510.62,24.35 514.62,20.40 517.50,17.40C520.38,14.40 522.75,11.72 525.00,10.20C527.25,8.68 529.00,8.67 531.00,8.30C533.00,7.93 535.00,8.05 537.00,8.00C539.00,7.95 542.00,8.00 543.00,8.00" fill="none" stroke="#f01818" stroke-width="1.6"/>
<line x1="493" y1="67.9" x2="504.2" y2="67.9" stroke="#000" stroke-width="2.6"/>
<text x="507.6" y="71.3" font-family="Liberation Sans, sans-serif" font-weight="bold" font-size="9.4" fill="#000">GC</text>
<line x1="493" y1="78.7" x2="504.2" y2="78.7" stroke="#f01818" stroke-width="2.6"/>
<text x="507.6" y="82.1" font-family="Liberation Sans, sans-serif" font-weight="bold" font-size="9.4" fill="#000">Pt foil</text>
<line x1="493" y1="89.5" x2="504.2" y2="89.5" stroke="#2020f0" stroke-width="2.6"/>
<text x="507.6" y="92.9" font-family="Liberation Sans, sans-serif" font-weight="bold" font-size="9.4" fill="#000">T-MoS<tspan font-size="6.5" dy="2.5">2</tspan></text>
<line x1="493" y1="100.3" x2="504.2" y2="100.3" stroke="#109a98" stroke-width="2.6"/>
<text x="507.6" y="103.7" font-family="Liberation Sans, sans-serif" font-weight="bold" font-size="9.4" fill="#000">F-MoS<tspan font-size="6.5" dy="2.5">2</tspan></text>
<text x="362.5" y="154.5" font-family="Liberation Serif, serif" font-weight="bold" font-size="19" fill="#000">d</text>
<rect x="395.8" y="141.8" width="149.5" height="110.6" fill="none" stroke="#2a2a2a" stroke-width="1.4"/>
<line x1="395.8" y1="142.0" x2="398.3" y2="142.0" stroke="#2a2a2a" stroke-width="1"/>
<text x="393.5" y="144.4" font-family="Liberation Serif, serif" font-size="7" fill="#333" text-anchor="end">-0.6</text>
<line x1="395.8" y1="160.2" x2="398.3" y2="160.2" stroke="#2a2a2a" stroke-width="1"/>
<text x="393.5" y="162.6" font-family="Liberation Serif, serif" font-size="7" fill="#333" text-anchor="end">-0.5</text>
<line x1="395.8" y1="178.3" x2="398.3" y2="178.3" stroke="#2a2a2a" stroke-width="1"/>
<text x="393.5" y="180.7" font-family="Liberation Serif, serif" font-size="7" fill="#333" text-anchor="end">-0.4</text>
<line x1="395.8" y1="196.4" x2="398.3" y2="196.4" stroke="#2a2a2a" stroke-width="1"/>
<text x="393.5" y="198.8" font-family="Liberation Serif, serif" font-size="7" fill="#333" text-anchor="end">-0.3</text>
<line x1="395.8" y1="214.5" x2="398.3" y2="214.5" stroke="#2a2a2a" stroke-width="1"/>
<text x="393.5" y="216.9" font-family="Liberation Serif, serif" font-size="7" fill="#333" text-anchor="end">-0.2</text>
<line x1="395.8" y1="232.7" x2="398.3" y2="232.7" stroke="#2a2a2a" stroke-width="1"/>
<text x="393.5" y="235.1" font-family="Liberation Serif, serif" font-size="7" fill="#333" text-anchor="end">-0.1</text>
<line x1="395.8" y1="250.8" x2="398.3" y2="250.8" stroke="#2a2a2a" stroke-width="1"/>
<text x="393.5" y="253.2" font-family="Liberation Serif, serif" font-size="7" fill="#333" text-anchor="end">0.0</text>
<line x1="430.0" y1="252.4" x2="430.0" y2="249.8" stroke="#2a2a2a" stroke-width="1"/>
<text x="430.0" y="260.6" font-family="Liberation Serif, serif" font-size="7" fill="#333" text-anchor="middle">0.1</text>
<line x1="544.6" y1="252.4" x2="544.6" y2="249.8" stroke="#2a2a2a" stroke-width="1"/>
<text x="544.6" y="260.6" font-family="Liberation Serif, serif" font-size="7" fill="#333" text-anchor="middle">1</text>
<text transform="translate(379.2,235.8) rotate(-90)" font-family="Liberation Serif, serif" font-size="8.8" fill="#222" textLength="78.5" lengthAdjust="spacingAndGlyphs">Potential (V, vs RHE )</text>
<text x="416.8" y="270.6" font-family="Liberation Serif, serif" font-size="9.8" fill="#222" textLength="111" lengthAdjust="spacingAndGlyphs">log |Current density (mA/cm<tspan font-size="6" dy="-3.5">2</tspan><tspan dy="3.5">)|</tspan></text>
<path d="M427,208.7 C440,198 452,190 464.6,184.9" fill="none" stroke="#2020f0" stroke-width="2"/>
<path d="M447.8,215.2 C462,209 475,203 487.5,198.4" fill="none" stroke="#109a98" stroke-width="2"/>
<path d="M503.5,250 C518,248.5 530,247 545,245.5" fill="none" stroke="#f01818" stroke-width="2"/>
<polygon points="434.5,203.8 432.1,208.2 429.4,203.9" fill="#111"/>
<polygon points="439.6,200.5 437.2,205.0 434.6,200.7" fill="#111"/>
<polygon points="444.7,197.3 442.4,201.8 439.7,197.5" fill="#111"/>
<polygon points="449.9,194.1 447.5,198.5 444.9,194.3" fill="#111"/>
<polygon points="455.0,190.9 452.7,195.3 450.0,191.1" fill="#111"/>
<polygon points="460.2,187.7 457.8,192.1 455.1,187.8" fill="#111"/>
<polygon points="454.7,212.3 451.6,216.3 449.7,211.6" fill="#111"/>
<polygon points="460.0,210.1 456.9,214.0 455.0,209.4" fill="#111"/>
<polygon points="465.4,207.8 462.3,211.8 460.4,207.1" fill="#111"/>
<polygon points="470.7,205.6 467.6,209.5 465.7,204.9" fill="#111"/>
<polygon points="476.0,203.3 472.9,207.3 471.0,202.6" fill="#111"/>
<polygon points="481.4,201.1 478.3,205.0 476.4,200.4" fill="#111"/>
<polygon points="486.7,198.8 483.6,202.8 481.7,198.1" fill="#111"/>
<polygon points="514.9,248.5 510.8,251.4 510.3,246.4" fill="#111"/>
<polygon points="519.6,248.1 515.4,251.0 515.0,246.0" fill="#111"/>
<polygon points="524.2,247.6 520.1,250.5 519.7,245.5" fill="#111"/>
<polygon points="528.9,247.1 524.8,250.0 524.3,245.0" fill="#111"/>
<polygon points="533.6,246.7 529.4,249.6 529.0,244.6" fill="#111"/>
<polygon points="538.2,246.2 534.1,249.1 533.7,244.1" fill="#111"/>
<polygon points="542.9,245.7 538.8,248.6 538.3,243.6" fill="#111"/>
<text x="416.6" y="188.6" font-family="Liberation Serif, serif" font-weight="bold" font-size="7.2" fill="#2020e0" stroke="#2020e0" stroke-width="0.2" textLength="31.5" lengthAdjust="spacingAndGlyphs">97 mV/dec</text>
<text x="473.4" y="194.8" font-family="Liberation Serif, serif" font-weight="bold" font-size="7.2" fill="#109a98" stroke="#109a98" stroke-width="0.2" textLength="31" lengthAdjust="spacingAndGlyphs">59 mV/dec</text>
<text x="505.8" y="241.8" font-family="Liberation Serif, serif" font-weight="bold" font-size="7.2" fill="#f01818" stroke="#f01818" stroke-width="0.2" textLength="30.7" lengthAdjust="spacingAndGlyphs">39 mV/dec</text>
<line x1="492" y1="151.2" x2="503.3" y2="151.2" stroke="#f01818" stroke-width="2.6"/>
<text x="507.3" y="154.6" font-family="Liberation Sans, sans-serif" font-weight="bold" font-size="9.4" fill="#000">Pt foil</text>
<line x1="492" y1="162.1" x2="503.3" y2="162.1" stroke="#2020f0" stroke-width="2.6"/>
<text x="507.3" y="165.5" font-family="Liberation Sans, sans-serif" font-weight="bold" font-size="9.4" fill="#000">T-MoS<tspan font-size="6.5" dy="2.5">2</tspan></text>
<line x1="492" y1="173.0" x2="503.3" y2="173.0" stroke="#109a98" stroke-width="2.6"/>
<text x="507.3" y="176.4" font-family="Liberation Sans, sans-serif" font-weight="bold" font-size="9.4" fill="#000">F-MoS<tspan font-size="6.5" dy="2.5">2</tspan></text>
</svg>
</body></html>
